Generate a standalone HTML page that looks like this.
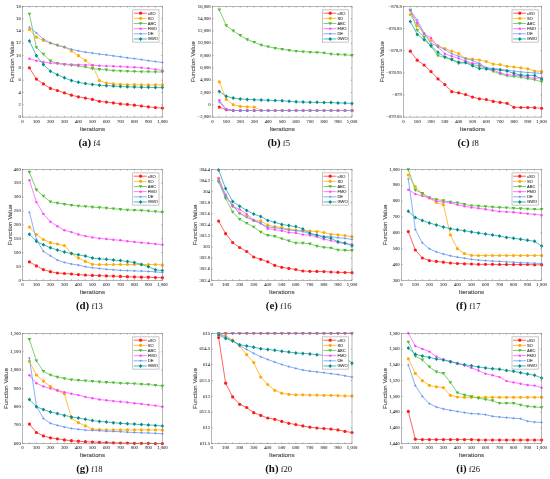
<!DOCTYPE html>
<html><head><meta charset="utf-8"><title>Convergence curves</title>
<style>
html,body{margin:0;padding:0;background:#fff;}
body{width:550px;height:479px;overflow:hidden;}
svg{display:block;will-change:transform;}
.tl text{font-family:"Liberation Serif",serif;font-size:4.7px;fill:#2a2a2a;stroke:#2a2a2a;stroke-width:0.05px;}
.al{font-family:"Liberation Sans",sans-serif;font-size:6.2px;fill:#505050;stroke:#505050;stroke-width:0.15px;}
.lg{font-family:"Liberation Sans",sans-serif;font-size:4.1px;fill:#3a3a3a;stroke:#3a3a3a;stroke-width:0.08px;}
.cap{font-family:"Liberation Serif",serif;font-size:10.9px;fill:#111;}
</style></head>
<body>
<svg width="550" height="479" viewBox="0 0 550 479">
<rect width="550" height="479" fill="#fff"/>
<polyline points="29.4,67.8 36.4,79.1 43.4,83.9 50.4,88.4 57.4,90.5 64.4,92.8 71.4,95.2 78.4,96.8 85.4,98.1 92.4,99.4 99.4,101.3 106.4,102.1 113.4,102.9 120.4,103.9 127.4,104.4 134.4,105.2 141.4,106 148.4,106.8 155.4,107.6 162.4,108.1" fill="none" stroke="#ff4848" stroke-width="0.85" stroke-linejoin="round"/>
<circle cx="29.4" cy="67.8" r="1.6" fill="#ff1a1a"/><circle cx="36.4" cy="79.1" r="1.6" fill="#ff1a1a"/><circle cx="43.4" cy="83.9" r="1.6" fill="#ff1a1a"/><circle cx="50.4" cy="88.4" r="1.6" fill="#ff1a1a"/><circle cx="57.4" cy="90.5" r="1.6" fill="#ff1a1a"/><circle cx="64.4" cy="92.8" r="1.6" fill="#ff1a1a"/><circle cx="71.4" cy="95.2" r="1.6" fill="#ff1a1a"/><circle cx="78.4" cy="96.8" r="1.6" fill="#ff1a1a"/><circle cx="85.4" cy="98.1" r="1.6" fill="#ff1a1a"/><circle cx="92.4" cy="99.4" r="1.6" fill="#ff1a1a"/><circle cx="99.4" cy="101.3" r="1.6" fill="#ff1a1a"/><circle cx="106.4" cy="102.1" r="1.6" fill="#ff1a1a"/><circle cx="113.4" cy="102.9" r="1.6" fill="#ff1a1a"/><circle cx="120.4" cy="103.9" r="1.6" fill="#ff1a1a"/><circle cx="127.4" cy="104.4" r="1.6" fill="#ff1a1a"/><circle cx="134.4" cy="105.2" r="1.6" fill="#ff1a1a"/><circle cx="141.4" cy="106" r="1.6" fill="#ff1a1a"/><circle cx="148.4" cy="106.8" r="1.6" fill="#ff1a1a"/><circle cx="155.4" cy="107.6" r="1.6" fill="#ff1a1a"/><circle cx="162.4" cy="108.1" r="1.6" fill="#ff1a1a"/>
<polyline points="29.4,29.6 36.4,37.2 43.4,40.4 50.4,43 57.4,44.9 64.4,47 71.4,50.9 78.4,55.7 85.4,60.4 92.4,65.4 99.4,80.5 106.4,83.1 113.4,83.9 120.4,84.4 127.4,84.7 134.4,84.7 141.4,84.9 148.4,84.9 155.4,84.9 162.4,84.9" fill="none" stroke="#ffb428" stroke-width="0.85" stroke-linejoin="round"/>
<circle cx="29.4" cy="29.6" r="1.6" fill="#ffaa00"/><circle cx="36.4" cy="37.2" r="1.6" fill="#ffaa00"/><circle cx="43.4" cy="40.4" r="1.6" fill="#ffaa00"/><circle cx="50.4" cy="43" r="1.6" fill="#ffaa00"/><circle cx="57.4" cy="44.9" r="1.6" fill="#ffaa00"/><circle cx="64.4" cy="47" r="1.6" fill="#ffaa00"/><circle cx="71.4" cy="50.9" r="1.6" fill="#ffaa00"/><circle cx="78.4" cy="55.7" r="1.6" fill="#ffaa00"/><circle cx="85.4" cy="60.4" r="1.6" fill="#ffaa00"/><circle cx="92.4" cy="65.4" r="1.6" fill="#ffaa00"/><circle cx="99.4" cy="80.5" r="1.6" fill="#ffaa00"/><circle cx="106.4" cy="83.1" r="1.6" fill="#ffaa00"/><circle cx="113.4" cy="83.9" r="1.6" fill="#ffaa00"/><circle cx="120.4" cy="84.4" r="1.6" fill="#ffaa00"/><circle cx="127.4" cy="84.7" r="1.6" fill="#ffaa00"/><circle cx="134.4" cy="84.7" r="1.6" fill="#ffaa00"/><circle cx="141.4" cy="84.9" r="1.6" fill="#ffaa00"/><circle cx="148.4" cy="84.9" r="1.6" fill="#ffaa00"/><circle cx="155.4" cy="84.9" r="1.6" fill="#ffaa00"/><circle cx="162.4" cy="84.9" r="1.6" fill="#ffaa00"/>
<polyline points="29.4,14 36.4,47.5 43.4,54.1 50.4,60.9 57.4,63.3 64.4,64.6 71.4,65.2 78.4,66 85.4,67 92.4,68.6 99.4,69.4 106.4,69.9 113.4,70.7 120.4,71 127.4,71.2 134.4,71.5 141.4,71.8 148.4,71.8 155.4,72 162.4,72" fill="none" stroke="#6cc85a" stroke-width="0.85" stroke-linejoin="round"/>
<path d="M27.5 12.7L31.3 12.7L29.4 15.8Z" fill="#4cbb2c"/><path d="M34.5 46.2L38.3 46.2L36.4 49.3Z" fill="#4cbb2c"/><path d="M41.5 52.8L45.3 52.8L43.4 55.9Z" fill="#4cbb2c"/><path d="M48.5 59.6L52.3 59.6L50.4 62.7Z" fill="#4cbb2c"/><path d="M55.5 62L59.3 62L57.4 65.1Z" fill="#4cbb2c"/><path d="M62.5 63.3L66.3 63.3L64.4 66.4Z" fill="#4cbb2c"/><path d="M69.5 63.9L73.3 63.9L71.4 67Z" fill="#4cbb2c"/><path d="M76.5 64.7L80.3 64.7L78.4 67.8Z" fill="#4cbb2c"/><path d="M83.5 65.7L87.3 65.7L85.4 68.8Z" fill="#4cbb2c"/><path d="M90.5 67.3L94.3 67.3L92.4 70.4Z" fill="#4cbb2c"/><path d="M97.5 68.1L101.3 68.1L99.4 71.2Z" fill="#4cbb2c"/><path d="M104.5 68.6L108.3 68.6L106.4 71.7Z" fill="#4cbb2c"/><path d="M111.5 69.4L115.3 69.4L113.4 72.5Z" fill="#4cbb2c"/><path d="M118.5 69.7L122.3 69.7L120.4 72.8Z" fill="#4cbb2c"/><path d="M125.5 69.9L129.3 69.9L127.4 73Z" fill="#4cbb2c"/><path d="M132.5 70.2L136.3 70.2L134.4 73.3Z" fill="#4cbb2c"/><path d="M139.5 70.5L143.3 70.5L141.4 73.6Z" fill="#4cbb2c"/><path d="M146.5 70.5L150.3 70.5L148.4 73.6Z" fill="#4cbb2c"/><path d="M153.5 70.7L157.3 70.7L155.4 73.8Z" fill="#4cbb2c"/><path d="M160.5 70.7L164.3 70.7L162.4 73.8Z" fill="#4cbb2c"/>
<polyline points="29.4,58.8 36.4,60.7 43.4,62 50.4,63.1 57.4,63.6 64.4,64.1 71.4,64.4 78.4,64.6 85.4,64.9 92.4,65.2 99.4,65.7 106.4,66 113.4,66.2 120.4,66.5 127.4,67 134.4,67.3 141.4,67.8 148.4,68.3 155.4,69.4 162.4,70.4" fill="none" stroke="#ff66ff" stroke-width="0.85" stroke-linejoin="round"/>
<circle cx="29.4" cy="58.8" r="1.2" fill="#ff44ff"/><circle cx="36.4" cy="60.7" r="1.2" fill="#ff44ff"/><circle cx="43.4" cy="62" r="1.2" fill="#ff44ff"/><circle cx="50.4" cy="63.1" r="1.2" fill="#ff44ff"/><circle cx="57.4" cy="63.6" r="1.2" fill="#ff44ff"/><circle cx="64.4" cy="64.1" r="1.2" fill="#ff44ff"/><circle cx="71.4" cy="64.4" r="1.2" fill="#ff44ff"/><circle cx="78.4" cy="64.6" r="1.2" fill="#ff44ff"/><circle cx="85.4" cy="64.9" r="1.2" fill="#ff44ff"/><circle cx="92.4" cy="65.2" r="1.2" fill="#ff44ff"/><circle cx="99.4" cy="65.7" r="1.2" fill="#ff44ff"/><circle cx="106.4" cy="66" r="1.2" fill="#ff44ff"/><circle cx="113.4" cy="66.2" r="1.2" fill="#ff44ff"/><circle cx="120.4" cy="66.5" r="1.2" fill="#ff44ff"/><circle cx="127.4" cy="67" r="1.2" fill="#ff44ff"/><circle cx="134.4" cy="67.3" r="1.2" fill="#ff44ff"/><circle cx="141.4" cy="67.8" r="1.2" fill="#ff44ff"/><circle cx="148.4" cy="68.3" r="1.2" fill="#ff44ff"/><circle cx="155.4" cy="69.4" r="1.2" fill="#ff44ff"/><circle cx="162.4" cy="70.4" r="1.2" fill="#ff44ff"/>
<polyline points="29.4,27.2 36.4,33 43.4,39.1 50.4,43 57.4,45.4 64.4,47.2 71.4,49.3 78.4,50.9 85.4,52.2 92.4,53 99.4,54.1 106.4,54.9 113.4,55.9 120.4,56.7 127.4,57.8 134.4,58.6 141.4,59.6 148.4,60.7 155.4,61.5 162.4,62.5" fill="none" stroke="#74a0f2" stroke-width="0.85" stroke-linejoin="round"/>
<path d="M28.2 27.2H30.6M29.4 26V28.4" stroke="#5a8ef0" stroke-width="0.7" fill="none"/><path d="M35.2 33H37.6M36.4 31.8V34.2" stroke="#5a8ef0" stroke-width="0.7" fill="none"/><path d="M42.2 39.1H44.6M43.4 37.9V40.3" stroke="#5a8ef0" stroke-width="0.7" fill="none"/><path d="M49.2 43H51.6M50.4 41.8V44.2" stroke="#5a8ef0" stroke-width="0.7" fill="none"/><path d="M56.2 45.4H58.6M57.4 44.2V46.6" stroke="#5a8ef0" stroke-width="0.7" fill="none"/><path d="M63.2 47.2H65.6M64.4 46V48.4" stroke="#5a8ef0" stroke-width="0.7" fill="none"/><path d="M70.2 49.3H72.6M71.4 48.1V50.5" stroke="#5a8ef0" stroke-width="0.7" fill="none"/><path d="M77.2 50.9H79.6M78.4 49.7V52.1" stroke="#5a8ef0" stroke-width="0.7" fill="none"/><path d="M84.2 52.2H86.6M85.4 51V53.4" stroke="#5a8ef0" stroke-width="0.7" fill="none"/><path d="M91.2 53H93.6M92.4 51.8V54.2" stroke="#5a8ef0" stroke-width="0.7" fill="none"/><path d="M98.2 54.1H100.6M99.4 52.9V55.3" stroke="#5a8ef0" stroke-width="0.7" fill="none"/><path d="M105.2 54.9H107.6M106.4 53.7V56.1" stroke="#5a8ef0" stroke-width="0.7" fill="none"/><path d="M112.2 55.9H114.6M113.4 54.7V57.1" stroke="#5a8ef0" stroke-width="0.7" fill="none"/><path d="M119.2 56.7H121.6M120.4 55.5V57.9" stroke="#5a8ef0" stroke-width="0.7" fill="none"/><path d="M126.2 57.8H128.6M127.4 56.6V59" stroke="#5a8ef0" stroke-width="0.7" fill="none"/><path d="M133.2 58.6H135.6M134.4 57.4V59.8" stroke="#5a8ef0" stroke-width="0.7" fill="none"/><path d="M140.2 59.6H142.6M141.4 58.4V60.8" stroke="#5a8ef0" stroke-width="0.7" fill="none"/><path d="M147.2 60.7H149.6M148.4 59.5V61.9" stroke="#5a8ef0" stroke-width="0.7" fill="none"/><path d="M154.2 61.5H156.6M155.4 60.3V62.7" stroke="#5a8ef0" stroke-width="0.7" fill="none"/><path d="M161.2 62.5H163.6M162.4 61.3V63.7" stroke="#5a8ef0" stroke-width="0.7" fill="none"/>
<polyline points="29.4,40.9 36.4,55.7 43.4,64.6 50.4,71.2 57.4,74.7 64.4,77.8 71.4,80.5 78.4,82.3 85.4,83.6 92.4,84.4 99.4,85.2 106.4,85.7 113.4,86 120.4,86.5 127.4,86.8 134.4,87 141.4,87.3 148.4,87.3 155.4,87.6 162.4,87.6" fill="none" stroke="#33adb0" stroke-width="0.85" stroke-linejoin="round"/>
<path d="M29.4 38.9L31.1 40.9L29.4 42.9L27.7 40.9Z" fill="#008c8c"/><path d="M36.4 53.7L38.1 55.7L36.4 57.7L34.7 55.7Z" fill="#008c8c"/><path d="M43.4 62.6L45.1 64.6L43.4 66.6L41.7 64.6Z" fill="#008c8c"/><path d="M50.4 69.2L52.1 71.2L50.4 73.2L48.7 71.2Z" fill="#008c8c"/><path d="M57.4 72.7L59.1 74.7L57.4 76.7L55.7 74.7Z" fill="#008c8c"/><path d="M64.4 75.8L66.1 77.8L64.4 79.8L62.7 77.8Z" fill="#008c8c"/><path d="M71.4 78.5L73.1 80.5L71.4 82.5L69.7 80.5Z" fill="#008c8c"/><path d="M78.4 80.3L80.1 82.3L78.4 84.3L76.7 82.3Z" fill="#008c8c"/><path d="M85.4 81.6L87.1 83.6L85.4 85.6L83.7 83.6Z" fill="#008c8c"/><path d="M92.4 82.4L94.1 84.4L92.4 86.4L90.7 84.4Z" fill="#008c8c"/><path d="M99.4 83.2L101.1 85.2L99.4 87.2L97.7 85.2Z" fill="#008c8c"/><path d="M106.4 83.7L108.1 85.7L106.4 87.7L104.7 85.7Z" fill="#008c8c"/><path d="M113.4 84L115.1 86L113.4 88L111.7 86Z" fill="#008c8c"/><path d="M120.4 84.5L122.1 86.5L120.4 88.5L118.7 86.5Z" fill="#008c8c"/><path d="M127.4 84.8L129.1 86.8L127.4 88.8L125.7 86.8Z" fill="#008c8c"/><path d="M134.4 85L136.1 87L134.4 89L132.7 87Z" fill="#008c8c"/><path d="M141.4 85.3L143.1 87.3L141.4 89.3L139.7 87.3Z" fill="#008c8c"/><path d="M148.4 85.3L150.1 87.3L148.4 89.3L146.7 87.3Z" fill="#008c8c"/><path d="M155.4 85.6L157.1 87.6L155.4 89.6L153.7 87.6Z" fill="#008c8c"/><path d="M162.4 85.6L164.1 87.6L162.4 89.6L160.7 87.6Z" fill="#008c8c"/>
<rect x="22.4" y="6.4" width="140" height="110.7" fill="none" stroke="#7a7a7a" stroke-width="0.55"/>
<path d="M22.4 117.1V115.8M22.4 6.4V7.7M29.4 117.1V115.8M29.4 6.4V7.7M36.4 117.1V115.8M36.4 6.4V7.7M43.4 117.1V115.8M43.4 6.4V7.7M50.4 117.1V115.8M50.4 6.4V7.7M57.4 117.1V115.8M57.4 6.4V7.7M64.4 117.1V115.8M64.4 6.4V7.7M71.4 117.1V115.8M71.4 6.4V7.7M78.4 117.1V115.8M78.4 6.4V7.7M85.4 117.1V115.8M85.4 6.4V7.7M92.4 117.1V115.8M92.4 6.4V7.7M99.4 117.1V115.8M99.4 6.4V7.7M106.4 117.1V115.8M106.4 6.4V7.7M113.4 117.1V115.8M113.4 6.4V7.7M120.4 117.1V115.8M120.4 6.4V7.7M127.4 117.1V115.8M127.4 6.4V7.7M134.4 117.1V115.8M134.4 6.4V7.7M141.4 117.1V115.8M141.4 6.4V7.7M148.4 117.1V115.8M148.4 6.4V7.7M155.4 117.1V115.8M155.4 6.4V7.7M162.4 117.1V115.8M162.4 6.4V7.7M22.4 117.1H23.7M162.4 117.1H161.1M22.4 104.8H23.7M162.4 104.8H161.1M22.4 92.5H23.7M162.4 92.5H161.1M22.4 80.2H23.7M162.4 80.2H161.1M22.4 67.9H23.7M162.4 67.9H161.1M22.4 55.6H23.7M162.4 55.6H161.1M22.4 43.3H23.7M162.4 43.3H161.1M22.4 31H23.7M162.4 31H161.1M22.4 18.7H23.7M162.4 18.7H161.1M22.4 6.4H23.7M162.4 6.4H161.1" stroke="#7a7a7a" stroke-width="0.55" fill="none"/>
<g class="tl"><text x="20.8" y="118.25" text-anchor="end">0</text><text x="20.8" y="105.95" text-anchor="end">2</text><text x="20.8" y="93.65" text-anchor="end">4</text><text x="20.8" y="81.35" text-anchor="end">6</text><text x="20.8" y="69.05" text-anchor="end">8</text><text x="20.8" y="56.75" text-anchor="end">10</text><text x="20.8" y="44.45" text-anchor="end">12</text><text x="20.8" y="32.15" text-anchor="end">14</text><text x="20.8" y="19.85" text-anchor="end">16</text><text x="20.8" y="7.55" text-anchor="end">18</text><text x="22.4" y="122.5" text-anchor="middle">0</text><text x="36.4" y="122.5" text-anchor="middle">100</text><text x="50.4" y="122.5" text-anchor="middle">200</text><text x="64.4" y="122.5" text-anchor="middle">300</text><text x="78.4" y="122.5" text-anchor="middle">400</text><text x="92.4" y="122.5" text-anchor="middle">500</text><text x="106.4" y="122.5" text-anchor="middle">600</text><text x="120.4" y="122.5" text-anchor="middle">700</text><text x="134.4" y="122.5" text-anchor="middle">800</text><text x="148.4" y="122.5" text-anchor="middle">900</text><text x="162.4" y="122.5" text-anchor="middle">1,000</text></g>
<text class="al" x="92.4" y="130.7" text-anchor="middle">Iterations</text>
<text class="al" text-anchor="middle" transform="translate(14.15 61.75) rotate(-90)">Function Value</text>
<rect x="132.8" y="9.9" width="26.2" height="32.2" fill="#fff" stroke="#8c8c8c" stroke-width="0.5"/><path d="M133.8 13.2H146.8" stroke="#ff4848" stroke-width="0.85"/><circle cx="140.6" cy="13.2" r="1.6" fill="#ff1a1a"/><text class="lg" x="147.8" y="14.65">cSO</text><path d="M133.8 18.35H146.8" stroke="#ffb428" stroke-width="0.85"/><circle cx="140.6" cy="18.35" r="1.6" fill="#ffaa00"/><text class="lg" x="147.8" y="19.8">SO</text><path d="M133.8 23.5H146.8" stroke="#6cc85a" stroke-width="0.85"/><path d="M138.7 22.2L142.5 22.2L140.6 25.3Z" fill="#4cbb2c"/><text class="lg" x="147.8" y="24.95">ABC</text><path d="M133.8 28.65H146.8" stroke="#ff66ff" stroke-width="0.85"/><circle cx="140.6" cy="28.65" r="1.2" fill="#ff44ff"/><text class="lg" x="147.8" y="30.1">FMO</text><path d="M133.8 33.8H146.8" stroke="#74a0f2" stroke-width="0.85"/><path d="M139.4 33.8H141.8M140.6 32.6V35" stroke="#5a8ef0" stroke-width="0.7" fill="none"/><text class="lg" x="147.8" y="35.25">DE</text><path d="M133.8 38.95H146.8" stroke="#33adb0" stroke-width="0.85"/><path d="M140.6 36.95L142.3 38.95L140.6 40.95L138.9 38.95Z" fill="#008c8c"/><text class="lg" x="147.8" y="40.4">GWO</text>
<text class="cap" text-anchor="middle" x="89.4" y="145.5"><tspan font-weight="bold">(a)</tspan><tspan style="font-size:8.6px"> f4</tspan></text>
<polyline points="219.29,107.1 226.27,109.7 233.25,110.5 240.24,110.5 247.23,110.5 254.21,110.5 261.19,110.5 268.18,110.5 275.17,110.5 282.15,110.5 289.13,110.5 296.12,110.5 303.11,110.5 310.09,110.5 317.07,110.5 324.06,110.5 331.05,110.5 338.03,110.5 345.01,110.5 352,110.5" fill="none" stroke="#ff4848" stroke-width="0.85" stroke-linejoin="round"/>
<circle cx="219.29" cy="107.1" r="1.6" fill="#ff1a1a"/><circle cx="226.27" cy="109.7" r="1.6" fill="#ff1a1a"/><circle cx="233.25" cy="110.5" r="1.6" fill="#ff1a1a"/><circle cx="240.24" cy="110.5" r="1.6" fill="#ff1a1a"/><circle cx="247.23" cy="110.5" r="1.6" fill="#ff1a1a"/><circle cx="254.21" cy="110.5" r="1.6" fill="#ff1a1a"/><circle cx="261.19" cy="110.5" r="1.6" fill="#ff1a1a"/><circle cx="268.18" cy="110.5" r="1.6" fill="#ff1a1a"/><circle cx="275.17" cy="110.5" r="1.6" fill="#ff1a1a"/><circle cx="282.15" cy="110.5" r="1.6" fill="#ff1a1a"/><circle cx="289.13" cy="110.5" r="1.6" fill="#ff1a1a"/><circle cx="296.12" cy="110.5" r="1.6" fill="#ff1a1a"/><circle cx="303.11" cy="110.5" r="1.6" fill="#ff1a1a"/><circle cx="310.09" cy="110.5" r="1.6" fill="#ff1a1a"/><circle cx="317.07" cy="110.5" r="1.6" fill="#ff1a1a"/><circle cx="324.06" cy="110.5" r="1.6" fill="#ff1a1a"/><circle cx="331.05" cy="110.5" r="1.6" fill="#ff1a1a"/><circle cx="338.03" cy="110.5" r="1.6" fill="#ff1a1a"/><circle cx="345.01" cy="110.5" r="1.6" fill="#ff1a1a"/><circle cx="352" cy="110.5" r="1.6" fill="#ff1a1a"/>
<polyline points="219.29,81.8 226.27,99.4 233.25,104.7 240.24,106.3 247.23,106.8 254.21,107.1 261.19,110.5 268.18,110.5 275.17,110.5 282.15,110.5 289.13,110.5 296.12,110.5 303.11,110.5 310.09,110.5 317.07,110.5 324.06,110.5 331.05,110.5 338.03,110.5 345.01,110.5 352,110.5" fill="none" stroke="#ffb428" stroke-width="0.85" stroke-linejoin="round"/>
<circle cx="219.29" cy="81.8" r="1.6" fill="#ffaa00"/><circle cx="226.27" cy="99.4" r="1.6" fill="#ffaa00"/><circle cx="233.25" cy="104.7" r="1.6" fill="#ffaa00"/><circle cx="240.24" cy="106.3" r="1.6" fill="#ffaa00"/><circle cx="247.23" cy="106.8" r="1.6" fill="#ffaa00"/><circle cx="254.21" cy="107.1" r="1.6" fill="#ffaa00"/><circle cx="261.19" cy="110.5" r="1.6" fill="#ffaa00"/><circle cx="268.18" cy="110.5" r="1.6" fill="#ffaa00"/><circle cx="275.17" cy="110.5" r="1.6" fill="#ffaa00"/><circle cx="282.15" cy="110.5" r="1.6" fill="#ffaa00"/><circle cx="289.13" cy="110.5" r="1.6" fill="#ffaa00"/><circle cx="296.12" cy="110.5" r="1.6" fill="#ffaa00"/><circle cx="303.11" cy="110.5" r="1.6" fill="#ffaa00"/><circle cx="310.09" cy="110.5" r="1.6" fill="#ffaa00"/><circle cx="317.07" cy="110.5" r="1.6" fill="#ffaa00"/><circle cx="324.06" cy="110.5" r="1.6" fill="#ffaa00"/><circle cx="331.05" cy="110.5" r="1.6" fill="#ffaa00"/><circle cx="338.03" cy="110.5" r="1.6" fill="#ffaa00"/><circle cx="345.01" cy="110.5" r="1.6" fill="#ffaa00"/><circle cx="352" cy="110.5" r="1.6" fill="#ffaa00"/>
<polyline points="219.29,9.8 226.27,25.6 233.25,30.9 240.24,35.4 247.23,39.6 254.21,42.2 261.19,45.1 268.18,46.7 275.17,48.3 282.15,49.3 289.13,50.4 296.12,51.2 303.11,51.7 310.09,52.2 317.07,52.5 324.06,53 331.05,54.1 338.03,54.6 345.01,54.9 352,55.4" fill="none" stroke="#6cc85a" stroke-width="0.85" stroke-linejoin="round"/>
<path d="M217.39 8.5L221.19 8.5L219.29 11.6Z" fill="#4cbb2c"/><path d="M224.37 24.3L228.17 24.3L226.27 27.4Z" fill="#4cbb2c"/><path d="M231.35 29.6L235.16 29.6L233.25 32.7Z" fill="#4cbb2c"/><path d="M238.34 34.1L242.14 34.1L240.24 37.2Z" fill="#4cbb2c"/><path d="M245.33 38.3L249.13 38.3L247.23 41.4Z" fill="#4cbb2c"/><path d="M252.31 40.9L256.11 40.9L254.21 44Z" fill="#4cbb2c"/><path d="M259.3 43.8L263.09 43.8L261.19 46.9Z" fill="#4cbb2c"/><path d="M266.28 45.4L270.08 45.4L268.18 48.5Z" fill="#4cbb2c"/><path d="M273.27 47L277.06 47L275.17 50.1Z" fill="#4cbb2c"/><path d="M280.25 48L284.05 48L282.15 51.1Z" fill="#4cbb2c"/><path d="M287.24 49.1L291.03 49.1L289.13 52.2Z" fill="#4cbb2c"/><path d="M294.22 49.9L298.02 49.9L296.12 53Z" fill="#4cbb2c"/><path d="M301.21 50.4L305 50.4L303.11 53.5Z" fill="#4cbb2c"/><path d="M308.19 50.9L311.99 50.9L310.09 54Z" fill="#4cbb2c"/><path d="M315.18 51.2L318.97 51.2L317.07 54.3Z" fill="#4cbb2c"/><path d="M322.16 51.7L325.96 51.7L324.06 54.8Z" fill="#4cbb2c"/><path d="M329.15 52.8L332.94 52.8L331.05 55.9Z" fill="#4cbb2c"/><path d="M336.13 53.3L339.93 53.3L338.03 56.4Z" fill="#4cbb2c"/><path d="M343.12 53.6L346.91 53.6L345.01 56.7Z" fill="#4cbb2c"/><path d="M350.1 54.1L353.9 54.1L352 57.2Z" fill="#4cbb2c"/>
<polyline points="219.29,100.2 226.27,109.5 233.25,110.5 240.24,110.5 247.23,110.5 254.21,110.5 261.19,110.5 268.18,110.5 275.17,110.5 282.15,110.5 289.13,110.5 296.12,110.5 303.11,110.5 310.09,110.5 317.07,110.5 324.06,110.5 331.05,110.5 338.03,110.5 345.01,110.5 352,110.5" fill="none" stroke="#ff66ff" stroke-width="0.85" stroke-linejoin="round"/>
<circle cx="219.29" cy="100.2" r="1.2" fill="#ff44ff"/><circle cx="226.27" cy="109.5" r="1.2" fill="#ff44ff"/><circle cx="233.25" cy="110.5" r="1.2" fill="#ff44ff"/><circle cx="240.24" cy="110.5" r="1.2" fill="#ff44ff"/><circle cx="247.23" cy="110.5" r="1.2" fill="#ff44ff"/><circle cx="254.21" cy="110.5" r="1.2" fill="#ff44ff"/><circle cx="261.19" cy="110.5" r="1.2" fill="#ff44ff"/><circle cx="268.18" cy="110.5" r="1.2" fill="#ff44ff"/><circle cx="275.17" cy="110.5" r="1.2" fill="#ff44ff"/><circle cx="282.15" cy="110.5" r="1.2" fill="#ff44ff"/><circle cx="289.13" cy="110.5" r="1.2" fill="#ff44ff"/><circle cx="296.12" cy="110.5" r="1.2" fill="#ff44ff"/><circle cx="303.11" cy="110.5" r="1.2" fill="#ff44ff"/><circle cx="310.09" cy="110.5" r="1.2" fill="#ff44ff"/><circle cx="317.07" cy="110.5" r="1.2" fill="#ff44ff"/><circle cx="324.06" cy="110.5" r="1.2" fill="#ff44ff"/><circle cx="331.05" cy="110.5" r="1.2" fill="#ff44ff"/><circle cx="338.03" cy="110.5" r="1.2" fill="#ff44ff"/><circle cx="345.01" cy="110.5" r="1.2" fill="#ff44ff"/><circle cx="352" cy="110.5" r="1.2" fill="#ff44ff"/>
<polyline points="219.29,102.1 226.27,109.5 233.25,110.5 240.24,110.5 247.23,110.5 254.21,110.5 261.19,110.5 268.18,110.5 275.17,110.5 282.15,110.5 289.13,110.5 296.12,110.5 303.11,110.5 310.09,110.5 317.07,110.5 324.06,110.5 331.05,110.5 338.03,110.5 345.01,110.5 352,110.5" fill="none" stroke="#74a0f2" stroke-width="0.85" stroke-linejoin="round"/>
<path d="M218.09 102.1H220.49M219.29 100.9V103.3" stroke="#5a8ef0" stroke-width="0.7" fill="none"/><path d="M225.07 109.5H227.47M226.27 108.3V110.7" stroke="#5a8ef0" stroke-width="0.7" fill="none"/><path d="M232.06 110.5H234.45M233.25 109.3V111.7" stroke="#5a8ef0" stroke-width="0.7" fill="none"/><path d="M239.04 110.5H241.44M240.24 109.3V111.7" stroke="#5a8ef0" stroke-width="0.7" fill="none"/><path d="M246.03 110.5H248.43M247.23 109.3V111.7" stroke="#5a8ef0" stroke-width="0.7" fill="none"/><path d="M253.01 110.5H255.41M254.21 109.3V111.7" stroke="#5a8ef0" stroke-width="0.7" fill="none"/><path d="M260 110.5H262.39M261.19 109.3V111.7" stroke="#5a8ef0" stroke-width="0.7" fill="none"/><path d="M266.98 110.5H269.38M268.18 109.3V111.7" stroke="#5a8ef0" stroke-width="0.7" fill="none"/><path d="M273.97 110.5H276.37M275.17 109.3V111.7" stroke="#5a8ef0" stroke-width="0.7" fill="none"/><path d="M280.95 110.5H283.35M282.15 109.3V111.7" stroke="#5a8ef0" stroke-width="0.7" fill="none"/><path d="M287.94 110.5H290.33M289.13 109.3V111.7" stroke="#5a8ef0" stroke-width="0.7" fill="none"/><path d="M294.92 110.5H297.32M296.12 109.3V111.7" stroke="#5a8ef0" stroke-width="0.7" fill="none"/><path d="M301.91 110.5H304.31M303.11 109.3V111.7" stroke="#5a8ef0" stroke-width="0.7" fill="none"/><path d="M308.89 110.5H311.29M310.09 109.3V111.7" stroke="#5a8ef0" stroke-width="0.7" fill="none"/><path d="M315.88 110.5H318.27M317.07 109.3V111.7" stroke="#5a8ef0" stroke-width="0.7" fill="none"/><path d="M322.86 110.5H325.26M324.06 109.3V111.7" stroke="#5a8ef0" stroke-width="0.7" fill="none"/><path d="M329.85 110.5H332.25M331.05 109.3V111.7" stroke="#5a8ef0" stroke-width="0.7" fill="none"/><path d="M336.83 110.5H339.23M338.03 109.3V111.7" stroke="#5a8ef0" stroke-width="0.7" fill="none"/><path d="M343.81 110.5H346.21M345.01 109.3V111.7" stroke="#5a8ef0" stroke-width="0.7" fill="none"/><path d="M350.8 110.5H353.2M352 109.3V111.7" stroke="#5a8ef0" stroke-width="0.7" fill="none"/>
<polyline points="219.29,91.5 226.27,96.3 233.25,98.1 240.24,98.9 247.23,99.4 254.21,99.7 261.19,100 268.18,100.2 275.17,100.5 282.15,100.8 289.13,101.3 296.12,101.8 303.11,102.1 310.09,102.3 317.07,102.3 324.06,102.6 331.05,102.6 338.03,102.9 345.01,103.1 352,103.4" fill="none" stroke="#33adb0" stroke-width="0.85" stroke-linejoin="round"/>
<path d="M219.29 89.5L220.99 91.5L219.29 93.5L217.59 91.5Z" fill="#008c8c"/><path d="M226.27 94.3L227.97 96.3L226.27 98.3L224.57 96.3Z" fill="#008c8c"/><path d="M233.25 96.1L234.95 98.1L233.25 100.1L231.56 98.1Z" fill="#008c8c"/><path d="M240.24 96.9L241.94 98.9L240.24 100.9L238.54 98.9Z" fill="#008c8c"/><path d="M247.23 97.4L248.93 99.4L247.23 101.4L245.53 99.4Z" fill="#008c8c"/><path d="M254.21 97.7L255.91 99.7L254.21 101.7L252.51 99.7Z" fill="#008c8c"/><path d="M261.19 98L262.89 100L261.19 102L259.5 100Z" fill="#008c8c"/><path d="M268.18 98.2L269.88 100.2L268.18 102.2L266.48 100.2Z" fill="#008c8c"/><path d="M275.17 98.5L276.87 100.5L275.17 102.5L273.47 100.5Z" fill="#008c8c"/><path d="M282.15 98.8L283.85 100.8L282.15 102.8L280.45 100.8Z" fill="#008c8c"/><path d="M289.13 99.3L290.83 101.3L289.13 103.3L287.44 101.3Z" fill="#008c8c"/><path d="M296.12 99.8L297.82 101.8L296.12 103.8L294.42 101.8Z" fill="#008c8c"/><path d="M303.11 100.1L304.81 102.1L303.11 104.1L301.41 102.1Z" fill="#008c8c"/><path d="M310.09 100.3L311.79 102.3L310.09 104.3L308.39 102.3Z" fill="#008c8c"/><path d="M317.07 100.3L318.77 102.3L317.07 104.3L315.38 102.3Z" fill="#008c8c"/><path d="M324.06 100.6L325.76 102.6L324.06 104.6L322.36 102.6Z" fill="#008c8c"/><path d="M331.05 100.6L332.75 102.6L331.05 104.6L329.35 102.6Z" fill="#008c8c"/><path d="M338.03 100.9L339.73 102.9L338.03 104.9L336.33 102.9Z" fill="#008c8c"/><path d="M345.01 101.1L346.71 103.1L345.01 105.1L343.31 103.1Z" fill="#008c8c"/><path d="M352 101.4L353.7 103.4L352 105.4L350.3 103.4Z" fill="#008c8c"/>
<rect x="212.3" y="6.4" width="139.7" height="110.7" fill="none" stroke="#7a7a7a" stroke-width="0.55"/>
<path d="M212.3 117.1V115.8M212.3 6.4V7.7M219.29 117.1V115.8M219.29 6.4V7.7M226.27 117.1V115.8M226.27 6.4V7.7M233.25 117.1V115.8M233.25 6.4V7.7M240.24 117.1V115.8M240.24 6.4V7.7M247.23 117.1V115.8M247.23 6.4V7.7M254.21 117.1V115.8M254.21 6.4V7.7M261.19 117.1V115.8M261.19 6.4V7.7M268.18 117.1V115.8M268.18 6.4V7.7M275.17 117.1V115.8M275.17 6.4V7.7M282.15 117.1V115.8M282.15 6.4V7.7M289.13 117.1V115.8M289.13 6.4V7.7M296.12 117.1V115.8M296.12 6.4V7.7M303.11 117.1V115.8M303.11 6.4V7.7M310.09 117.1V115.8M310.09 6.4V7.7M317.07 117.1V115.8M317.07 6.4V7.7M324.06 117.1V115.8M324.06 6.4V7.7M331.05 117.1V115.8M331.05 6.4V7.7M338.03 117.1V115.8M338.03 6.4V7.7M345.01 117.1V115.8M345.01 6.4V7.7M352 117.1V115.8M352 6.4V7.7M212.3 117.1H213.6M352 117.1H350.7M212.3 104.8H213.6M352 104.8H350.7M212.3 92.5H213.6M352 92.5H350.7M212.3 80.2H213.6M352 80.2H350.7M212.3 67.9H213.6M352 67.9H350.7M212.3 55.6H213.6M352 55.6H350.7M212.3 43.3H213.6M352 43.3H350.7M212.3 31H213.6M352 31H350.7M212.3 18.7H213.6M352 18.7H350.7M212.3 6.4H213.6M352 6.4H350.7" stroke="#7a7a7a" stroke-width="0.55" fill="none"/>
<g class="tl"><text x="210.7" y="118.25" text-anchor="end">−2,000</text><text x="210.7" y="105.95" text-anchor="end">0</text><text x="210.7" y="93.65" text-anchor="end">2,000</text><text x="210.7" y="81.35" text-anchor="end">4,000</text><text x="210.7" y="69.05" text-anchor="end">6,000</text><text x="210.7" y="56.75" text-anchor="end">8,000</text><text x="210.7" y="44.45" text-anchor="end">10,000</text><text x="210.7" y="32.15" text-anchor="end">12,000</text><text x="210.7" y="19.85" text-anchor="end">14,000</text><text x="210.7" y="7.55" text-anchor="end">16,000</text><text x="212.3" y="122.5" text-anchor="middle">0</text><text x="226.27" y="122.5" text-anchor="middle">100</text><text x="240.24" y="122.5" text-anchor="middle">200</text><text x="254.21" y="122.5" text-anchor="middle">300</text><text x="268.18" y="122.5" text-anchor="middle">400</text><text x="282.15" y="122.5" text-anchor="middle">500</text><text x="296.12" y="122.5" text-anchor="middle">600</text><text x="310.09" y="122.5" text-anchor="middle">700</text><text x="324.06" y="122.5" text-anchor="middle">800</text><text x="338.03" y="122.5" text-anchor="middle">900</text><text x="352" y="122.5" text-anchor="middle">1,000</text></g>
<text class="al" x="282.15" y="130.7" text-anchor="middle">Iterations</text>
<text class="al" text-anchor="middle" transform="translate(195.05 61.75) rotate(-90)">Function Value</text>
<rect x="322.4" y="9.9" width="26.2" height="32.2" fill="#fff" stroke="#8c8c8c" stroke-width="0.5"/><path d="M323.4 13.2H336.4" stroke="#ff4848" stroke-width="0.85"/><circle cx="330.2" cy="13.2" r="1.6" fill="#ff1a1a"/><text class="lg" x="337.4" y="14.65">cSO</text><path d="M323.4 18.35H336.4" stroke="#ffb428" stroke-width="0.85"/><circle cx="330.2" cy="18.35" r="1.6" fill="#ffaa00"/><text class="lg" x="337.4" y="19.8">SO</text><path d="M323.4 23.5H336.4" stroke="#6cc85a" stroke-width="0.85"/><path d="M328.3 22.2L332.1 22.2L330.2 25.3Z" fill="#4cbb2c"/><text class="lg" x="337.4" y="24.95">ABC</text><path d="M323.4 28.65H336.4" stroke="#ff66ff" stroke-width="0.85"/><circle cx="330.2" cy="28.65" r="1.2" fill="#ff44ff"/><text class="lg" x="337.4" y="30.1">FMO</text><path d="M323.4 33.8H336.4" stroke="#74a0f2" stroke-width="0.85"/><path d="M329 33.8H331.4M330.2 32.6V35" stroke="#5a8ef0" stroke-width="0.7" fill="none"/><text class="lg" x="337.4" y="35.25">DE</text><path d="M323.4 38.95H336.4" stroke="#33adb0" stroke-width="0.85"/><path d="M330.2 36.95L331.9 38.95L330.2 40.95L328.5 38.95Z" fill="#008c8c"/><text class="lg" x="337.4" y="40.4">GWO</text>
<text class="cap" text-anchor="middle" x="278.7" y="145.5"><tspan font-weight="bold">(b)</tspan><tspan style="font-size:8.6px"> f5</tspan></text>
<polyline points="410.31,51.2 417.22,60.2 424.13,65.1 431.04,71.6 437.95,78.9 444.86,84.6 451.77,91.7 458.68,92.8 465.59,94.6 472.5,97.1 479.41,98.8 486.32,99.5 493.23,101.4 500.14,102.4 507.05,103.3 513.96,107.3 520.87,107.5 527.78,107.5 534.69,107.7 541.6,108.3" fill="none" stroke="#ff4848" stroke-width="0.85" stroke-linejoin="round"/>
<circle cx="410.31" cy="51.2" r="1.6" fill="#ff1a1a"/><circle cx="417.22" cy="60.2" r="1.6" fill="#ff1a1a"/><circle cx="424.13" cy="65.1" r="1.6" fill="#ff1a1a"/><circle cx="431.04" cy="71.6" r="1.6" fill="#ff1a1a"/><circle cx="437.95" cy="78.9" r="1.6" fill="#ff1a1a"/><circle cx="444.86" cy="84.6" r="1.6" fill="#ff1a1a"/><circle cx="451.77" cy="91.7" r="1.6" fill="#ff1a1a"/><circle cx="458.68" cy="92.8" r="1.6" fill="#ff1a1a"/><circle cx="465.59" cy="94.6" r="1.6" fill="#ff1a1a"/><circle cx="472.5" cy="97.1" r="1.6" fill="#ff1a1a"/><circle cx="479.41" cy="98.8" r="1.6" fill="#ff1a1a"/><circle cx="486.32" cy="99.5" r="1.6" fill="#ff1a1a"/><circle cx="493.23" cy="101.4" r="1.6" fill="#ff1a1a"/><circle cx="500.14" cy="102.4" r="1.6" fill="#ff1a1a"/><circle cx="507.05" cy="103.3" r="1.6" fill="#ff1a1a"/><circle cx="513.96" cy="107.3" r="1.6" fill="#ff1a1a"/><circle cx="520.87" cy="107.5" r="1.6" fill="#ff1a1a"/><circle cx="527.78" cy="107.5" r="1.6" fill="#ff1a1a"/><circle cx="534.69" cy="107.7" r="1.6" fill="#ff1a1a"/><circle cx="541.6" cy="108.3" r="1.6" fill="#ff1a1a"/>
<polyline points="410.31,14.5 417.22,25.6 424.13,34 431.04,40.5 437.95,45.7 444.86,48.6 451.77,51.1 458.68,53.5 465.59,58.5 472.5,59.2 479.41,60 486.32,61.5 493.23,64.1 500.14,64.6 507.05,66.3 513.96,67 520.87,67.8 527.78,68.8 534.69,71 541.6,71.4" fill="none" stroke="#ffb428" stroke-width="0.85" stroke-linejoin="round"/>
<circle cx="410.31" cy="14.5" r="1.6" fill="#ffaa00"/><circle cx="417.22" cy="25.6" r="1.6" fill="#ffaa00"/><circle cx="424.13" cy="34" r="1.6" fill="#ffaa00"/><circle cx="431.04" cy="40.5" r="1.6" fill="#ffaa00"/><circle cx="437.95" cy="45.7" r="1.6" fill="#ffaa00"/><circle cx="444.86" cy="48.6" r="1.6" fill="#ffaa00"/><circle cx="451.77" cy="51.1" r="1.6" fill="#ffaa00"/><circle cx="458.68" cy="53.5" r="1.6" fill="#ffaa00"/><circle cx="465.59" cy="58.5" r="1.6" fill="#ffaa00"/><circle cx="472.5" cy="59.2" r="1.6" fill="#ffaa00"/><circle cx="479.41" cy="60" r="1.6" fill="#ffaa00"/><circle cx="486.32" cy="61.5" r="1.6" fill="#ffaa00"/><circle cx="493.23" cy="64.1" r="1.6" fill="#ffaa00"/><circle cx="500.14" cy="64.6" r="1.6" fill="#ffaa00"/><circle cx="507.05" cy="66.3" r="1.6" fill="#ffaa00"/><circle cx="513.96" cy="67" r="1.6" fill="#ffaa00"/><circle cx="520.87" cy="67.8" r="1.6" fill="#ffaa00"/><circle cx="527.78" cy="68.8" r="1.6" fill="#ffaa00"/><circle cx="534.69" cy="71" r="1.6" fill="#ffaa00"/><circle cx="541.6" cy="71.4" r="1.6" fill="#ffaa00"/>
<polyline points="410.31,10.1 417.22,30.3 424.13,37.3 431.04,46.4 437.95,55.6 444.86,57.4 451.77,59.6 458.68,63.4 465.59,62.8 472.5,64.5 479.41,66.3 486.32,68.5 493.23,71.4 500.14,73.9 507.05,75.8 513.96,76.5 520.87,77.3 527.78,78.7 534.69,79.8 541.6,81.7" fill="none" stroke="#6cc85a" stroke-width="0.85" stroke-linejoin="round"/>
<path d="M408.41 8.8L412.21 8.8L410.31 11.9Z" fill="#4cbb2c"/><path d="M415.32 29L419.12 29L417.22 32.1Z" fill="#4cbb2c"/><path d="M422.23 36L426.03 36L424.13 39.1Z" fill="#4cbb2c"/><path d="M429.14 45.1L432.94 45.1L431.04 48.2Z" fill="#4cbb2c"/><path d="M436.05 54.3L439.85 54.3L437.95 57.4Z" fill="#4cbb2c"/><path d="M442.96 56.1L446.76 56.1L444.86 59.2Z" fill="#4cbb2c"/><path d="M449.87 58.3L453.67 58.3L451.77 61.4Z" fill="#4cbb2c"/><path d="M456.78 62.1L460.58 62.1L458.68 65.2Z" fill="#4cbb2c"/><path d="M463.69 61.5L467.49 61.5L465.59 64.6Z" fill="#4cbb2c"/><path d="M470.6 63.2L474.4 63.2L472.5 66.3Z" fill="#4cbb2c"/><path d="M477.51 65L481.31 65L479.41 68.1Z" fill="#4cbb2c"/><path d="M484.42 67.2L488.22 67.2L486.32 70.3Z" fill="#4cbb2c"/><path d="M491.33 70.1L495.13 70.1L493.23 73.2Z" fill="#4cbb2c"/><path d="M498.24 72.6L502.04 72.6L500.14 75.7Z" fill="#4cbb2c"/><path d="M505.15 74.5L508.95 74.5L507.05 77.6Z" fill="#4cbb2c"/><path d="M512.06 75.2L515.86 75.2L513.96 78.3Z" fill="#4cbb2c"/><path d="M518.97 76L522.77 76L520.87 79.1Z" fill="#4cbb2c"/><path d="M525.88 77.4L529.68 77.4L527.78 80.5Z" fill="#4cbb2c"/><path d="M532.79 78.5L536.59 78.5L534.69 81.6Z" fill="#4cbb2c"/><path d="M539.7 80.4L543.5 80.4L541.6 83.5Z" fill="#4cbb2c"/>
<polyline points="410.31,10.6 417.22,23 424.13,34 431.04,37.9 437.95,47.1 444.86,53.7 451.77,56.3 458.68,58.4 465.59,61 472.5,63.2 479.41,64.1 486.32,68.5 493.23,70 500.14,72.9 507.05,74.8 513.96,75.1 520.87,75.8 527.78,77.3 534.69,78.3 541.6,77.7" fill="none" stroke="#ff66ff" stroke-width="0.85" stroke-linejoin="round"/>
<circle cx="410.31" cy="10.6" r="1.2" fill="#ff44ff"/><circle cx="417.22" cy="23" r="1.2" fill="#ff44ff"/><circle cx="424.13" cy="34" r="1.2" fill="#ff44ff"/><circle cx="431.04" cy="37.9" r="1.2" fill="#ff44ff"/><circle cx="437.95" cy="47.1" r="1.2" fill="#ff44ff"/><circle cx="444.86" cy="53.7" r="1.2" fill="#ff44ff"/><circle cx="451.77" cy="56.3" r="1.2" fill="#ff44ff"/><circle cx="458.68" cy="58.4" r="1.2" fill="#ff44ff"/><circle cx="465.59" cy="61" r="1.2" fill="#ff44ff"/><circle cx="472.5" cy="63.2" r="1.2" fill="#ff44ff"/><circle cx="479.41" cy="64.1" r="1.2" fill="#ff44ff"/><circle cx="486.32" cy="68.5" r="1.2" fill="#ff44ff"/><circle cx="493.23" cy="70" r="1.2" fill="#ff44ff"/><circle cx="500.14" cy="72.9" r="1.2" fill="#ff44ff"/><circle cx="507.05" cy="74.8" r="1.2" fill="#ff44ff"/><circle cx="513.96" cy="75.1" r="1.2" fill="#ff44ff"/><circle cx="520.87" cy="75.8" r="1.2" fill="#ff44ff"/><circle cx="527.78" cy="77.3" r="1.2" fill="#ff44ff"/><circle cx="534.69" cy="78.3" r="1.2" fill="#ff44ff"/><circle cx="541.6" cy="77.7" r="1.2" fill="#ff44ff"/>
<polyline points="410.31,10.1 417.22,20.1 424.13,33.2 431.04,43.5 437.95,46.4 444.86,49.6 451.77,53.7 458.68,56.3 465.59,58.4 472.5,60.4 479.41,63.4 486.32,67.8 493.23,68.5 500.14,69.2 507.05,70.3 513.96,71 520.87,71.9 527.78,72.5 534.69,72.9 541.6,73.3" fill="none" stroke="#74a0f2" stroke-width="0.85" stroke-linejoin="round"/>
<path d="M409.11 10.1H411.51M410.31 8.9V11.3" stroke="#5a8ef0" stroke-width="0.7" fill="none"/><path d="M416.02 20.1H418.42M417.22 18.9V21.3" stroke="#5a8ef0" stroke-width="0.7" fill="none"/><path d="M422.93 33.2H425.33M424.13 32V34.4" stroke="#5a8ef0" stroke-width="0.7" fill="none"/><path d="M429.84 43.5H432.24M431.04 42.3V44.7" stroke="#5a8ef0" stroke-width="0.7" fill="none"/><path d="M436.75 46.4H439.15M437.95 45.2V47.6" stroke="#5a8ef0" stroke-width="0.7" fill="none"/><path d="M443.66 49.6H446.06M444.86 48.4V50.8" stroke="#5a8ef0" stroke-width="0.7" fill="none"/><path d="M450.57 53.7H452.97M451.77 52.5V54.9" stroke="#5a8ef0" stroke-width="0.7" fill="none"/><path d="M457.48 56.3H459.88M458.68 55.1V57.5" stroke="#5a8ef0" stroke-width="0.7" fill="none"/><path d="M464.39 58.4H466.79M465.59 57.2V59.6" stroke="#5a8ef0" stroke-width="0.7" fill="none"/><path d="M471.3 60.4H473.7M472.5 59.2V61.6" stroke="#5a8ef0" stroke-width="0.7" fill="none"/><path d="M478.21 63.4H480.61M479.41 62.2V64.6" stroke="#5a8ef0" stroke-width="0.7" fill="none"/><path d="M485.12 67.8H487.52M486.32 66.6V69" stroke="#5a8ef0" stroke-width="0.7" fill="none"/><path d="M492.03 68.5H494.43M493.23 67.3V69.7" stroke="#5a8ef0" stroke-width="0.7" fill="none"/><path d="M498.94 69.2H501.34M500.14 68V70.4" stroke="#5a8ef0" stroke-width="0.7" fill="none"/><path d="M505.85 70.3H508.25M507.05 69.1V71.5" stroke="#5a8ef0" stroke-width="0.7" fill="none"/><path d="M512.76 71H515.16M513.96 69.8V72.2" stroke="#5a8ef0" stroke-width="0.7" fill="none"/><path d="M519.67 71.9H522.07M520.87 70.7V73.1" stroke="#5a8ef0" stroke-width="0.7" fill="none"/><path d="M526.58 72.5H528.98M527.78 71.3V73.7" stroke="#5a8ef0" stroke-width="0.7" fill="none"/><path d="M533.49 72.9H535.89M534.69 71.7V74.1" stroke="#5a8ef0" stroke-width="0.7" fill="none"/><path d="M540.4 73.3H542.8M541.6 72.1V74.5" stroke="#5a8ef0" stroke-width="0.7" fill="none"/>
<polyline points="410.31,21.5 417.22,34.4 424.13,39.8 431.04,45.7 437.95,52.2 444.86,56.9 451.77,59.6 458.68,62.2 465.59,62.5 472.5,65.8 479.41,68.5 486.32,68.9 493.23,69.2 500.14,70 507.05,71.1 513.96,73.3 520.87,75.1 527.78,75.4 534.69,75.5 541.6,79.2" fill="none" stroke="#33adb0" stroke-width="0.85" stroke-linejoin="round"/>
<path d="M410.31 19.5L412.01 21.5L410.31 23.5L408.61 21.5Z" fill="#008c8c"/><path d="M417.22 32.4L418.92 34.4L417.22 36.4L415.52 34.4Z" fill="#008c8c"/><path d="M424.13 37.8L425.83 39.8L424.13 41.8L422.43 39.8Z" fill="#008c8c"/><path d="M431.04 43.7L432.74 45.7L431.04 47.7L429.34 45.7Z" fill="#008c8c"/><path d="M437.95 50.2L439.65 52.2L437.95 54.2L436.25 52.2Z" fill="#008c8c"/><path d="M444.86 54.9L446.56 56.9L444.86 58.9L443.16 56.9Z" fill="#008c8c"/><path d="M451.77 57.6L453.47 59.6L451.77 61.6L450.07 59.6Z" fill="#008c8c"/><path d="M458.68 60.2L460.38 62.2L458.68 64.2L456.98 62.2Z" fill="#008c8c"/><path d="M465.59 60.5L467.29 62.5L465.59 64.5L463.89 62.5Z" fill="#008c8c"/><path d="M472.5 63.8L474.2 65.8L472.5 67.8L470.8 65.8Z" fill="#008c8c"/><path d="M479.41 66.5L481.11 68.5L479.41 70.5L477.71 68.5Z" fill="#008c8c"/><path d="M486.32 66.9L488.02 68.9L486.32 70.9L484.62 68.9Z" fill="#008c8c"/><path d="M493.23 67.2L494.93 69.2L493.23 71.2L491.53 69.2Z" fill="#008c8c"/><path d="M500.14 68L501.84 70L500.14 72L498.44 70Z" fill="#008c8c"/><path d="M507.05 69.1L508.75 71.1L507.05 73.1L505.35 71.1Z" fill="#008c8c"/><path d="M513.96 71.3L515.66 73.3L513.96 75.3L512.26 73.3Z" fill="#008c8c"/><path d="M520.87 73.1L522.57 75.1L520.87 77.1L519.17 75.1Z" fill="#008c8c"/><path d="M527.78 73.4L529.48 75.4L527.78 77.4L526.08 75.4Z" fill="#008c8c"/><path d="M534.69 73.5L536.39 75.5L534.69 77.5L532.99 75.5Z" fill="#008c8c"/><path d="M541.6 77.2L543.3 79.2L541.6 81.2L539.9 79.2Z" fill="#008c8c"/>
<rect x="403.4" y="6.4" width="138.2" height="110.7" fill="none" stroke="#7a7a7a" stroke-width="0.55"/>
<path d="M403.4 117.1V115.8M403.4 6.4V7.7M410.31 117.1V115.8M410.31 6.4V7.7M417.22 117.1V115.8M417.22 6.4V7.7M424.13 117.1V115.8M424.13 6.4V7.7M431.04 117.1V115.8M431.04 6.4V7.7M437.95 117.1V115.8M437.95 6.4V7.7M444.86 117.1V115.8M444.86 6.4V7.7M451.77 117.1V115.8M451.77 6.4V7.7M458.68 117.1V115.8M458.68 6.4V7.7M465.59 117.1V115.8M465.59 6.4V7.7M472.5 117.1V115.8M472.5 6.4V7.7M479.41 117.1V115.8M479.41 6.4V7.7M486.32 117.1V115.8M486.32 6.4V7.7M493.23 117.1V115.8M493.23 6.4V7.7M500.14 117.1V115.8M500.14 6.4V7.7M507.05 117.1V115.8M507.05 6.4V7.7M513.96 117.1V115.8M513.96 6.4V7.7M520.87 117.1V115.8M520.87 6.4V7.7M527.78 117.1V115.8M527.78 6.4V7.7M534.69 117.1V115.8M534.69 6.4V7.7M541.6 117.1V115.8M541.6 6.4V7.7M403.4 117.1H404.7M541.6 117.1H540.3M403.4 94.96H404.7M541.6 94.96H540.3M403.4 72.82H404.7M541.6 72.82H540.3M403.4 50.68H404.7M541.6 50.68H540.3M403.4 28.54H404.7M541.6 28.54H540.3M403.4 6.4H404.7M541.6 6.4H540.3" stroke="#7a7a7a" stroke-width="0.55" fill="none"/>
<g class="tl"><text x="401.8" y="118.25" text-anchor="end">−879.05</text><text x="401.8" y="96.11" text-anchor="end">−879</text><text x="401.8" y="73.97" text-anchor="end">−878.95</text><text x="401.8" y="51.83" text-anchor="end">−878.9</text><text x="401.8" y="29.69" text-anchor="end">−878.85</text><text x="401.8" y="7.55" text-anchor="end">−878.8</text><text x="403.4" y="122.5" text-anchor="middle">0</text><text x="417.22" y="122.5" text-anchor="middle">100</text><text x="431.04" y="122.5" text-anchor="middle">200</text><text x="444.86" y="122.5" text-anchor="middle">300</text><text x="458.68" y="122.5" text-anchor="middle">400</text><text x="472.5" y="122.5" text-anchor="middle">500</text><text x="486.32" y="122.5" text-anchor="middle">600</text><text x="500.14" y="122.5" text-anchor="middle">700</text><text x="513.96" y="122.5" text-anchor="middle">800</text><text x="527.78" y="122.5" text-anchor="middle">900</text><text x="541.6" y="122.5" text-anchor="middle">1,000</text></g>
<text class="al" x="472.5" y="130.7" text-anchor="middle">Iterations</text>
<text class="al" text-anchor="middle" transform="translate(384.25 61.75) rotate(-90)">Function Value</text>
<rect x="512" y="9.9" width="26.2" height="32.2" fill="#fff" stroke="#8c8c8c" stroke-width="0.5"/><path d="M513 13.2H526" stroke="#ff4848" stroke-width="0.85"/><circle cx="519.8" cy="13.2" r="1.6" fill="#ff1a1a"/><text class="lg" x="527" y="14.65">cSO</text><path d="M513 18.35H526" stroke="#ffb428" stroke-width="0.85"/><circle cx="519.8" cy="18.35" r="1.6" fill="#ffaa00"/><text class="lg" x="527" y="19.8">SO</text><path d="M513 23.5H526" stroke="#6cc85a" stroke-width="0.85"/><path d="M517.9 22.2L521.7 22.2L519.8 25.3Z" fill="#4cbb2c"/><text class="lg" x="527" y="24.95">ABC</text><path d="M513 28.65H526" stroke="#ff66ff" stroke-width="0.85"/><circle cx="519.8" cy="28.65" r="1.2" fill="#ff44ff"/><text class="lg" x="527" y="30.1">FMO</text><path d="M513 33.8H526" stroke="#74a0f2" stroke-width="0.85"/><path d="M518.6 33.8H521M519.8 32.6V35" stroke="#5a8ef0" stroke-width="0.7" fill="none"/><text class="lg" x="527" y="35.25">DE</text><path d="M513 38.95H526" stroke="#33adb0" stroke-width="0.85"/><path d="M519.8 36.95L521.5 38.95L519.8 40.95L518.1 38.95Z" fill="#008c8c"/><text class="lg" x="527" y="40.4">GWO</text>
<text class="cap" text-anchor="middle" x="468.2" y="145.5"><tspan font-weight="bold">(c)</tspan><tspan style="font-size:8.6px"> f8</tspan></text>
<polyline points="29.4,261.9 36.4,265.9 43.4,269.6 50.4,271.7 57.4,273 64.4,273.5 71.4,274 78.4,274.6 85.4,275.1 92.4,275.4 99.4,275.6 106.4,275.9 113.4,276.1 120.4,276.4 127.4,276.7 134.4,276.9 141.4,277.2 148.4,277.2 155.4,277.5 162.4,277.7" fill="none" stroke="#ff4848" stroke-width="0.85" stroke-linejoin="round"/>
<circle cx="29.4" cy="261.9" r="1.6" fill="#ff1a1a"/><circle cx="36.4" cy="265.9" r="1.6" fill="#ff1a1a"/><circle cx="43.4" cy="269.6" r="1.6" fill="#ff1a1a"/><circle cx="50.4" cy="271.7" r="1.6" fill="#ff1a1a"/><circle cx="57.4" cy="273" r="1.6" fill="#ff1a1a"/><circle cx="64.4" cy="273.5" r="1.6" fill="#ff1a1a"/><circle cx="71.4" cy="274" r="1.6" fill="#ff1a1a"/><circle cx="78.4" cy="274.6" r="1.6" fill="#ff1a1a"/><circle cx="85.4" cy="275.1" r="1.6" fill="#ff1a1a"/><circle cx="92.4" cy="275.4" r="1.6" fill="#ff1a1a"/><circle cx="99.4" cy="275.6" r="1.6" fill="#ff1a1a"/><circle cx="106.4" cy="275.9" r="1.6" fill="#ff1a1a"/><circle cx="113.4" cy="276.1" r="1.6" fill="#ff1a1a"/><circle cx="120.4" cy="276.4" r="1.6" fill="#ff1a1a"/><circle cx="127.4" cy="276.7" r="1.6" fill="#ff1a1a"/><circle cx="134.4" cy="276.9" r="1.6" fill="#ff1a1a"/><circle cx="141.4" cy="277.2" r="1.6" fill="#ff1a1a"/><circle cx="148.4" cy="277.2" r="1.6" fill="#ff1a1a"/><circle cx="155.4" cy="277.5" r="1.6" fill="#ff1a1a"/><circle cx="162.4" cy="277.7" r="1.6" fill="#ff1a1a"/>
<polyline points="29.4,227.1 36.4,234.5 43.4,239.5 50.4,242.7 57.4,244 64.4,245.6 71.4,253.5 78.4,258 85.4,261.4 92.4,264.3 99.4,264.5 106.4,264.5 113.4,264.5 120.4,264.5 127.4,264.5 134.4,264.5 141.4,264.5 148.4,264.5 155.4,264.5 162.4,264.8" fill="none" stroke="#ffb428" stroke-width="0.85" stroke-linejoin="round"/>
<circle cx="29.4" cy="227.1" r="1.6" fill="#ffaa00"/><circle cx="36.4" cy="234.5" r="1.6" fill="#ffaa00"/><circle cx="43.4" cy="239.5" r="1.6" fill="#ffaa00"/><circle cx="50.4" cy="242.7" r="1.6" fill="#ffaa00"/><circle cx="57.4" cy="244" r="1.6" fill="#ffaa00"/><circle cx="64.4" cy="245.6" r="1.6" fill="#ffaa00"/><circle cx="71.4" cy="253.5" r="1.6" fill="#ffaa00"/><circle cx="78.4" cy="258" r="1.6" fill="#ffaa00"/><circle cx="85.4" cy="261.4" r="1.6" fill="#ffaa00"/><circle cx="92.4" cy="264.3" r="1.6" fill="#ffaa00"/><circle cx="99.4" cy="264.5" r="1.6" fill="#ffaa00"/><circle cx="106.4" cy="264.5" r="1.6" fill="#ffaa00"/><circle cx="113.4" cy="264.5" r="1.6" fill="#ffaa00"/><circle cx="120.4" cy="264.5" r="1.6" fill="#ffaa00"/><circle cx="127.4" cy="264.5" r="1.6" fill="#ffaa00"/><circle cx="134.4" cy="264.5" r="1.6" fill="#ffaa00"/><circle cx="141.4" cy="264.5" r="1.6" fill="#ffaa00"/><circle cx="148.4" cy="264.5" r="1.6" fill="#ffaa00"/><circle cx="155.4" cy="264.5" r="1.6" fill="#ffaa00"/><circle cx="162.4" cy="264.8" r="1.6" fill="#ffaa00"/>
<polyline points="29.4,172.3 36.4,189.9 43.4,196 50.4,201.8 57.4,203.1 64.4,204.2 71.4,205.2 78.4,206 85.4,206.5 92.4,207.1 99.4,207.6 106.4,208.1 113.4,208.7 120.4,209.4 127.4,210 134.4,210.2 141.4,210.5 148.4,211 155.4,211.6 162.4,212.3" fill="none" stroke="#6cc85a" stroke-width="0.85" stroke-linejoin="round"/>
<path d="M27.5 171L31.3 171L29.4 174.1Z" fill="#4cbb2c"/><path d="M34.5 188.6L38.3 188.6L36.4 191.7Z" fill="#4cbb2c"/><path d="M41.5 194.7L45.3 194.7L43.4 197.8Z" fill="#4cbb2c"/><path d="M48.5 200.5L52.3 200.5L50.4 203.6Z" fill="#4cbb2c"/><path d="M55.5 201.8L59.3 201.8L57.4 204.9Z" fill="#4cbb2c"/><path d="M62.5 202.9L66.3 202.9L64.4 206Z" fill="#4cbb2c"/><path d="M69.5 203.9L73.3 203.9L71.4 207Z" fill="#4cbb2c"/><path d="M76.5 204.7L80.3 204.7L78.4 207.8Z" fill="#4cbb2c"/><path d="M83.5 205.2L87.3 205.2L85.4 208.3Z" fill="#4cbb2c"/><path d="M90.5 205.8L94.3 205.8L92.4 208.9Z" fill="#4cbb2c"/><path d="M97.5 206.3L101.3 206.3L99.4 209.4Z" fill="#4cbb2c"/><path d="M104.5 206.8L108.3 206.8L106.4 209.9Z" fill="#4cbb2c"/><path d="M111.5 207.4L115.3 207.4L113.4 210.5Z" fill="#4cbb2c"/><path d="M118.5 208.1L122.3 208.1L120.4 211.2Z" fill="#4cbb2c"/><path d="M125.5 208.7L129.3 208.7L127.4 211.8Z" fill="#4cbb2c"/><path d="M132.5 208.9L136.3 208.9L134.4 212Z" fill="#4cbb2c"/><path d="M139.5 209.2L143.3 209.2L141.4 212.3Z" fill="#4cbb2c"/><path d="M146.5 209.7L150.3 209.7L148.4 212.8Z" fill="#4cbb2c"/><path d="M153.5 210.3L157.3 210.3L155.4 213.4Z" fill="#4cbb2c"/><path d="M160.5 211L164.3 211L162.4 214.1Z" fill="#4cbb2c"/>
<polyline points="29.4,180.2 36.4,202.1 43.4,213.9 50.4,221.8 57.4,226.3 64.4,230.3 71.4,232.1 78.4,234.5 85.4,236.1 92.4,237.4 99.4,238.4 106.4,239 113.4,239.8 120.4,240.3 127.4,241.3 134.4,241.9 141.4,242.7 148.4,243.2 155.4,244 162.4,244.8" fill="none" stroke="#ff66ff" stroke-width="0.85" stroke-linejoin="round"/>
<circle cx="29.4" cy="180.2" r="1.2" fill="#ff44ff"/><circle cx="36.4" cy="202.1" r="1.2" fill="#ff44ff"/><circle cx="43.4" cy="213.9" r="1.2" fill="#ff44ff"/><circle cx="50.4" cy="221.8" r="1.2" fill="#ff44ff"/><circle cx="57.4" cy="226.3" r="1.2" fill="#ff44ff"/><circle cx="64.4" cy="230.3" r="1.2" fill="#ff44ff"/><circle cx="71.4" cy="232.1" r="1.2" fill="#ff44ff"/><circle cx="78.4" cy="234.5" r="1.2" fill="#ff44ff"/><circle cx="85.4" cy="236.1" r="1.2" fill="#ff44ff"/><circle cx="92.4" cy="237.4" r="1.2" fill="#ff44ff"/><circle cx="99.4" cy="238.4" r="1.2" fill="#ff44ff"/><circle cx="106.4" cy="239" r="1.2" fill="#ff44ff"/><circle cx="113.4" cy="239.8" r="1.2" fill="#ff44ff"/><circle cx="120.4" cy="240.3" r="1.2" fill="#ff44ff"/><circle cx="127.4" cy="241.3" r="1.2" fill="#ff44ff"/><circle cx="134.4" cy="241.9" r="1.2" fill="#ff44ff"/><circle cx="141.4" cy="242.7" r="1.2" fill="#ff44ff"/><circle cx="148.4" cy="243.2" r="1.2" fill="#ff44ff"/><circle cx="155.4" cy="244" r="1.2" fill="#ff44ff"/><circle cx="162.4" cy="244.8" r="1.2" fill="#ff44ff"/>
<polyline points="29.4,212.3 36.4,239.5 43.4,251.4 50.4,255.8 57.4,260.1 64.4,262.4 71.4,264 78.4,265.1 85.4,266.7 92.4,267.7 99.4,268.5 106.4,269.3 113.4,269.8 120.4,270.3 127.4,270.6 134.4,270.9 141.4,271.1 148.4,271.4 155.4,271.9 162.4,272.5" fill="none" stroke="#74a0f2" stroke-width="0.85" stroke-linejoin="round"/>
<path d="M28.2 212.3H30.6M29.4 211.1V213.5" stroke="#5a8ef0" stroke-width="0.7" fill="none"/><path d="M35.2 239.5H37.6M36.4 238.3V240.7" stroke="#5a8ef0" stroke-width="0.7" fill="none"/><path d="M42.2 251.4H44.6M43.4 250.2V252.6" stroke="#5a8ef0" stroke-width="0.7" fill="none"/><path d="M49.2 255.8H51.6M50.4 254.6V257" stroke="#5a8ef0" stroke-width="0.7" fill="none"/><path d="M56.2 260.1H58.6M57.4 258.9V261.3" stroke="#5a8ef0" stroke-width="0.7" fill="none"/><path d="M63.2 262.4H65.6M64.4 261.2V263.6" stroke="#5a8ef0" stroke-width="0.7" fill="none"/><path d="M70.2 264H72.6M71.4 262.8V265.2" stroke="#5a8ef0" stroke-width="0.7" fill="none"/><path d="M77.2 265.1H79.6M78.4 263.9V266.3" stroke="#5a8ef0" stroke-width="0.7" fill="none"/><path d="M84.2 266.7H86.6M85.4 265.5V267.9" stroke="#5a8ef0" stroke-width="0.7" fill="none"/><path d="M91.2 267.7H93.6M92.4 266.5V268.9" stroke="#5a8ef0" stroke-width="0.7" fill="none"/><path d="M98.2 268.5H100.6M99.4 267.3V269.7" stroke="#5a8ef0" stroke-width="0.7" fill="none"/><path d="M105.2 269.3H107.6M106.4 268.1V270.5" stroke="#5a8ef0" stroke-width="0.7" fill="none"/><path d="M112.2 269.8H114.6M113.4 268.6V271" stroke="#5a8ef0" stroke-width="0.7" fill="none"/><path d="M119.2 270.3H121.6M120.4 269.1V271.5" stroke="#5a8ef0" stroke-width="0.7" fill="none"/><path d="M126.2 270.6H128.6M127.4 269.4V271.8" stroke="#5a8ef0" stroke-width="0.7" fill="none"/><path d="M133.2 270.9H135.6M134.4 269.7V272.1" stroke="#5a8ef0" stroke-width="0.7" fill="none"/><path d="M140.2 271.1H142.6M141.4 269.9V272.3" stroke="#5a8ef0" stroke-width="0.7" fill="none"/><path d="M147.2 271.4H149.6M148.4 270.2V272.6" stroke="#5a8ef0" stroke-width="0.7" fill="none"/><path d="M154.2 271.9H156.6M155.4 270.7V273.1" stroke="#5a8ef0" stroke-width="0.7" fill="none"/><path d="M161.2 272.5H163.6M162.4 271.3V273.7" stroke="#5a8ef0" stroke-width="0.7" fill="none"/>
<polyline points="29.4,234.2 36.4,241.3 43.4,244.8 50.4,247.7 57.4,250 64.4,251.9 71.4,253.5 78.4,254.8 85.4,256.1 92.4,258 99.4,258.7 106.4,259.3 113.4,260.1 120.4,260.6 127.4,261.6 134.4,262.4 141.4,264.5 148.4,266.7 155.4,269.8 162.4,270.6" fill="none" stroke="#33adb0" stroke-width="0.85" stroke-linejoin="round"/>
<path d="M29.4 232.2L31.1 234.2L29.4 236.2L27.7 234.2Z" fill="#008c8c"/><path d="M36.4 239.3L38.1 241.3L36.4 243.3L34.7 241.3Z" fill="#008c8c"/><path d="M43.4 242.8L45.1 244.8L43.4 246.8L41.7 244.8Z" fill="#008c8c"/><path d="M50.4 245.7L52.1 247.7L50.4 249.7L48.7 247.7Z" fill="#008c8c"/><path d="M57.4 248L59.1 250L57.4 252L55.7 250Z" fill="#008c8c"/><path d="M64.4 249.9L66.1 251.9L64.4 253.9L62.7 251.9Z" fill="#008c8c"/><path d="M71.4 251.5L73.1 253.5L71.4 255.5L69.7 253.5Z" fill="#008c8c"/><path d="M78.4 252.8L80.1 254.8L78.4 256.8L76.7 254.8Z" fill="#008c8c"/><path d="M85.4 254.1L87.1 256.1L85.4 258.1L83.7 256.1Z" fill="#008c8c"/><path d="M92.4 256L94.1 258L92.4 260L90.7 258Z" fill="#008c8c"/><path d="M99.4 256.7L101.1 258.7L99.4 260.7L97.7 258.7Z" fill="#008c8c"/><path d="M106.4 257.3L108.1 259.3L106.4 261.3L104.7 259.3Z" fill="#008c8c"/><path d="M113.4 258.1L115.1 260.1L113.4 262.1L111.7 260.1Z" fill="#008c8c"/><path d="M120.4 258.6L122.1 260.6L120.4 262.6L118.7 260.6Z" fill="#008c8c"/><path d="M127.4 259.6L129.1 261.6L127.4 263.6L125.7 261.6Z" fill="#008c8c"/><path d="M134.4 260.4L136.1 262.4L134.4 264.4L132.7 262.4Z" fill="#008c8c"/><path d="M141.4 262.5L143.1 264.5L141.4 266.5L139.7 264.5Z" fill="#008c8c"/><path d="M148.4 264.7L150.1 266.7L148.4 268.7L146.7 266.7Z" fill="#008c8c"/><path d="M155.4 267.8L157.1 269.8L155.4 271.8L153.7 269.8Z" fill="#008c8c"/><path d="M162.4 268.6L164.1 270.6L162.4 272.6L160.7 270.6Z" fill="#008c8c"/>
<rect x="22.4" y="169.4" width="140" height="111" fill="none" stroke="#7a7a7a" stroke-width="0.55"/>
<path d="M22.4 280.4V279.1M22.4 169.4V170.7M29.4 280.4V279.1M29.4 169.4V170.7M36.4 280.4V279.1M36.4 169.4V170.7M43.4 280.4V279.1M43.4 169.4V170.7M50.4 280.4V279.1M50.4 169.4V170.7M57.4 280.4V279.1M57.4 169.4V170.7M64.4 280.4V279.1M64.4 169.4V170.7M71.4 280.4V279.1M71.4 169.4V170.7M78.4 280.4V279.1M78.4 169.4V170.7M85.4 280.4V279.1M85.4 169.4V170.7M92.4 280.4V279.1M92.4 169.4V170.7M99.4 280.4V279.1M99.4 169.4V170.7M106.4 280.4V279.1M106.4 169.4V170.7M113.4 280.4V279.1M113.4 169.4V170.7M120.4 280.4V279.1M120.4 169.4V170.7M127.4 280.4V279.1M127.4 169.4V170.7M134.4 280.4V279.1M134.4 169.4V170.7M141.4 280.4V279.1M141.4 169.4V170.7M148.4 280.4V279.1M148.4 169.4V170.7M155.4 280.4V279.1M155.4 169.4V170.7M162.4 280.4V279.1M162.4 169.4V170.7M22.4 280.4H23.7M162.4 280.4H161.1M22.4 266.52H23.7M162.4 266.52H161.1M22.4 252.65H23.7M162.4 252.65H161.1M22.4 238.77H23.7M162.4 238.77H161.1M22.4 224.9H23.7M162.4 224.9H161.1M22.4 211.02H23.7M162.4 211.02H161.1M22.4 197.15H23.7M162.4 197.15H161.1M22.4 183.28H23.7M162.4 183.28H161.1M22.4 169.4H23.7M162.4 169.4H161.1" stroke="#7a7a7a" stroke-width="0.55" fill="none"/>
<g class="tl"><text x="20.8" y="281.55" text-anchor="end">0</text><text x="20.8" y="267.67" text-anchor="end">50</text><text x="20.8" y="253.8" text-anchor="end">100</text><text x="20.8" y="239.92" text-anchor="end">150</text><text x="20.8" y="226.05" text-anchor="end">200</text><text x="20.8" y="212.17" text-anchor="end">250</text><text x="20.8" y="198.3" text-anchor="end">300</text><text x="20.8" y="184.43" text-anchor="end">350</text><text x="20.8" y="170.55" text-anchor="end">400</text><text x="22.4" y="285.8" text-anchor="middle">0</text><text x="36.4" y="285.8" text-anchor="middle">100</text><text x="50.4" y="285.8" text-anchor="middle">200</text><text x="64.4" y="285.8" text-anchor="middle">300</text><text x="78.4" y="285.8" text-anchor="middle">400</text><text x="92.4" y="285.8" text-anchor="middle">500</text><text x="106.4" y="285.8" text-anchor="middle">600</text><text x="120.4" y="285.8" text-anchor="middle">700</text><text x="134.4" y="285.8" text-anchor="middle">800</text><text x="148.4" y="285.8" text-anchor="middle">900</text><text x="162.4" y="285.8" text-anchor="middle">1,000</text></g>
<text class="al" x="92.4" y="294" text-anchor="middle">Iterations</text>
<text class="al" text-anchor="middle" transform="translate(11.6 224.9) rotate(-90)">Function Value</text>
<rect x="132.8" y="172.9" width="26.2" height="32.2" fill="#fff" stroke="#8c8c8c" stroke-width="0.5"/><path d="M133.8 176.2H146.8" stroke="#ff4848" stroke-width="0.85"/><circle cx="140.6" cy="176.2" r="1.6" fill="#ff1a1a"/><text class="lg" x="147.8" y="177.65">cSO</text><path d="M133.8 181.35H146.8" stroke="#ffb428" stroke-width="0.85"/><circle cx="140.6" cy="181.35" r="1.6" fill="#ffaa00"/><text class="lg" x="147.8" y="182.8">SO</text><path d="M133.8 186.5H146.8" stroke="#6cc85a" stroke-width="0.85"/><path d="M138.7 185.2L142.5 185.2L140.6 188.3Z" fill="#4cbb2c"/><text class="lg" x="147.8" y="187.95">ABC</text><path d="M133.8 191.65H146.8" stroke="#ff66ff" stroke-width="0.85"/><circle cx="140.6" cy="191.65" r="1.2" fill="#ff44ff"/><text class="lg" x="147.8" y="193.1">FMO</text><path d="M133.8 196.8H146.8" stroke="#74a0f2" stroke-width="0.85"/><path d="M139.4 196.8H141.8M140.6 195.6V198" stroke="#5a8ef0" stroke-width="0.7" fill="none"/><text class="lg" x="147.8" y="198.25">DE</text><path d="M133.8 201.95H146.8" stroke="#33adb0" stroke-width="0.85"/><path d="M140.6 199.95L142.3 201.95L140.6 203.95L138.9 201.95Z" fill="#008c8c"/><text class="lg" x="147.8" y="203.4">GWO</text>
<text class="cap" text-anchor="middle" x="89.4" y="308.8"><tspan font-weight="bold">(d)</tspan><tspan style="font-size:8.6px"> f13</tspan></text>
<polyline points="218.62,221.1 225.64,233.7 232.66,242.5 239.68,247.5 246.7,251.5 253.72,257 260.74,259.3 267.76,261.8 274.78,265.4 281.8,267.3 288.82,268.4 295.84,269.5 302.86,271 309.88,271.3 316.9,271.4 323.92,271.6 330.94,272 337.96,272.3 344.98,272.5 352,272.7" fill="none" stroke="#ff4848" stroke-width="0.85" stroke-linejoin="round"/>
<circle cx="218.62" cy="221.1" r="1.6" fill="#ff1a1a"/><circle cx="225.64" cy="233.7" r="1.6" fill="#ff1a1a"/><circle cx="232.66" cy="242.5" r="1.6" fill="#ff1a1a"/><circle cx="239.68" cy="247.5" r="1.6" fill="#ff1a1a"/><circle cx="246.7" cy="251.5" r="1.6" fill="#ff1a1a"/><circle cx="253.72" cy="257" r="1.6" fill="#ff1a1a"/><circle cx="260.74" cy="259.3" r="1.6" fill="#ff1a1a"/><circle cx="267.76" cy="261.8" r="1.6" fill="#ff1a1a"/><circle cx="274.78" cy="265.4" r="1.6" fill="#ff1a1a"/><circle cx="281.8" cy="267.3" r="1.6" fill="#ff1a1a"/><circle cx="288.82" cy="268.4" r="1.6" fill="#ff1a1a"/><circle cx="295.84" cy="269.5" r="1.6" fill="#ff1a1a"/><circle cx="302.86" cy="271" r="1.6" fill="#ff1a1a"/><circle cx="309.88" cy="271.3" r="1.6" fill="#ff1a1a"/><circle cx="316.9" cy="271.4" r="1.6" fill="#ff1a1a"/><circle cx="323.92" cy="271.6" r="1.6" fill="#ff1a1a"/><circle cx="330.94" cy="272" r="1.6" fill="#ff1a1a"/><circle cx="337.96" cy="272.3" r="1.6" fill="#ff1a1a"/><circle cx="344.98" cy="272.5" r="1.6" fill="#ff1a1a"/><circle cx="352" cy="272.7" r="1.6" fill="#ff1a1a"/>
<polyline points="218.62,178.4 225.64,195.5 232.66,205.3 239.68,213.1 246.7,216 253.72,220.4 260.74,220.8 267.76,225.2 274.78,226.6 281.8,227.5 288.82,229.2 295.84,230.2 302.86,230.8 309.88,231.1 316.9,231.5 323.92,232.5 330.94,234.3 337.96,234.8 344.98,235.5 352,236.8" fill="none" stroke="#ffb428" stroke-width="0.85" stroke-linejoin="round"/>
<circle cx="218.62" cy="178.4" r="1.6" fill="#ffaa00"/><circle cx="225.64" cy="195.5" r="1.6" fill="#ffaa00"/><circle cx="232.66" cy="205.3" r="1.6" fill="#ffaa00"/><circle cx="239.68" cy="213.1" r="1.6" fill="#ffaa00"/><circle cx="246.7" cy="216" r="1.6" fill="#ffaa00"/><circle cx="253.72" cy="220.4" r="1.6" fill="#ffaa00"/><circle cx="260.74" cy="220.8" r="1.6" fill="#ffaa00"/><circle cx="267.76" cy="225.2" r="1.6" fill="#ffaa00"/><circle cx="274.78" cy="226.6" r="1.6" fill="#ffaa00"/><circle cx="281.8" cy="227.5" r="1.6" fill="#ffaa00"/><circle cx="288.82" cy="229.2" r="1.6" fill="#ffaa00"/><circle cx="295.84" cy="230.2" r="1.6" fill="#ffaa00"/><circle cx="302.86" cy="230.8" r="1.6" fill="#ffaa00"/><circle cx="309.88" cy="231.1" r="1.6" fill="#ffaa00"/><circle cx="316.9" cy="231.5" r="1.6" fill="#ffaa00"/><circle cx="323.92" cy="232.5" r="1.6" fill="#ffaa00"/><circle cx="330.94" cy="234.3" r="1.6" fill="#ffaa00"/><circle cx="337.96" cy="234.8" r="1.6" fill="#ffaa00"/><circle cx="344.98" cy="235.5" r="1.6" fill="#ffaa00"/><circle cx="352" cy="236.8" r="1.6" fill="#ffaa00"/>
<polyline points="218.62,181.9 225.64,198.4 232.66,212 239.68,219.3 246.7,223.3 253.72,227 260.74,232.1 267.76,235.4 274.78,236.4 281.8,238.7 288.82,240.9 295.84,243.1 302.86,243.1 309.88,243.9 316.9,246.1 323.92,247.5 330.94,248 337.96,250 344.98,250.4 352,250.4" fill="none" stroke="#6cc85a" stroke-width="0.85" stroke-linejoin="round"/>
<path d="M216.72 180.6L220.52 180.6L218.62 183.7Z" fill="#4cbb2c"/><path d="M223.74 197.1L227.54 197.1L225.64 200.2Z" fill="#4cbb2c"/><path d="M230.76 210.7L234.56 210.7L232.66 213.8Z" fill="#4cbb2c"/><path d="M237.78 218L241.58 218L239.68 221.1Z" fill="#4cbb2c"/><path d="M244.8 222L248.6 222L246.7 225.1Z" fill="#4cbb2c"/><path d="M251.82 225.7L255.62 225.7L253.72 228.8Z" fill="#4cbb2c"/><path d="M258.84 230.8L262.64 230.8L260.74 233.9Z" fill="#4cbb2c"/><path d="M265.86 234.1L269.66 234.1L267.76 237.2Z" fill="#4cbb2c"/><path d="M272.88 235.1L276.68 235.1L274.78 238.2Z" fill="#4cbb2c"/><path d="M279.9 237.4L283.7 237.4L281.8 240.5Z" fill="#4cbb2c"/><path d="M286.92 239.6L290.72 239.6L288.82 242.7Z" fill="#4cbb2c"/><path d="M293.94 241.8L297.74 241.8L295.84 244.9Z" fill="#4cbb2c"/><path d="M300.96 241.8L304.76 241.8L302.86 244.9Z" fill="#4cbb2c"/><path d="M307.98 242.6L311.78 242.6L309.88 245.7Z" fill="#4cbb2c"/><path d="M315 244.8L318.8 244.8L316.9 247.9Z" fill="#4cbb2c"/><path d="M322.02 246.2L325.82 246.2L323.92 249.3Z" fill="#4cbb2c"/><path d="M329.04 246.7L332.84 246.7L330.94 249.8Z" fill="#4cbb2c"/><path d="M336.06 248.7L339.86 248.7L337.96 251.8Z" fill="#4cbb2c"/><path d="M343.08 249.1L346.88 249.1L344.98 252.2Z" fill="#4cbb2c"/><path d="M350.1 249.1L353.9 249.1L352 252.2Z" fill="#4cbb2c"/>
<polyline points="218.62,178.4 225.64,194.8 232.66,206.5 239.68,209.4 246.7,214.1 253.72,219.9 260.74,223.3 267.76,228.7 274.78,229.6 281.8,230.8 288.82,232.5 295.84,232.9 302.86,234.6 309.88,235.4 316.9,236.8 323.92,239.2 330.94,240.6 337.96,242.4 344.98,243.6 352,244.3" fill="none" stroke="#ff66ff" stroke-width="0.85" stroke-linejoin="round"/>
<circle cx="218.62" cy="178.4" r="1.2" fill="#ff44ff"/><circle cx="225.64" cy="194.8" r="1.2" fill="#ff44ff"/><circle cx="232.66" cy="206.5" r="1.2" fill="#ff44ff"/><circle cx="239.68" cy="209.4" r="1.2" fill="#ff44ff"/><circle cx="246.7" cy="214.1" r="1.2" fill="#ff44ff"/><circle cx="253.72" cy="219.9" r="1.2" fill="#ff44ff"/><circle cx="260.74" cy="223.3" r="1.2" fill="#ff44ff"/><circle cx="267.76" cy="228.7" r="1.2" fill="#ff44ff"/><circle cx="274.78" cy="229.6" r="1.2" fill="#ff44ff"/><circle cx="281.8" cy="230.8" r="1.2" fill="#ff44ff"/><circle cx="288.82" cy="232.5" r="1.2" fill="#ff44ff"/><circle cx="295.84" cy="232.9" r="1.2" fill="#ff44ff"/><circle cx="302.86" cy="234.6" r="1.2" fill="#ff44ff"/><circle cx="309.88" cy="235.4" r="1.2" fill="#ff44ff"/><circle cx="316.9" cy="236.8" r="1.2" fill="#ff44ff"/><circle cx="323.92" cy="239.2" r="1.2" fill="#ff44ff"/><circle cx="330.94" cy="240.6" r="1.2" fill="#ff44ff"/><circle cx="337.96" cy="242.4" r="1.2" fill="#ff44ff"/><circle cx="344.98" cy="243.6" r="1.2" fill="#ff44ff"/><circle cx="352" cy="244.3" r="1.2" fill="#ff44ff"/>
<polyline points="218.62,180.9 225.64,196.2 232.66,205.3 239.68,213.5 246.7,217.4 253.72,220.8 260.74,223.3 267.76,227 274.78,227.7 281.8,228.8 288.82,230 295.84,230.7 302.86,231.4 309.88,233.9 316.9,235.4 323.92,236.3 330.94,236.8 337.96,237.7 344.98,238.3 352,239.5" fill="none" stroke="#74a0f2" stroke-width="0.85" stroke-linejoin="round"/>
<path d="M217.42 180.9H219.82M218.62 179.7V182.1" stroke="#5a8ef0" stroke-width="0.7" fill="none"/><path d="M224.44 196.2H226.84M225.64 195V197.4" stroke="#5a8ef0" stroke-width="0.7" fill="none"/><path d="M231.46 205.3H233.86M232.66 204.1V206.5" stroke="#5a8ef0" stroke-width="0.7" fill="none"/><path d="M238.48 213.5H240.88M239.68 212.3V214.7" stroke="#5a8ef0" stroke-width="0.7" fill="none"/><path d="M245.5 217.4H247.9M246.7 216.2V218.6" stroke="#5a8ef0" stroke-width="0.7" fill="none"/><path d="M252.52 220.8H254.92M253.72 219.6V222" stroke="#5a8ef0" stroke-width="0.7" fill="none"/><path d="M259.54 223.3H261.94M260.74 222.1V224.5" stroke="#5a8ef0" stroke-width="0.7" fill="none"/><path d="M266.56 227H268.96M267.76 225.8V228.2" stroke="#5a8ef0" stroke-width="0.7" fill="none"/><path d="M273.58 227.7H275.98M274.78 226.5V228.9" stroke="#5a8ef0" stroke-width="0.7" fill="none"/><path d="M280.6 228.8H283M281.8 227.6V230" stroke="#5a8ef0" stroke-width="0.7" fill="none"/><path d="M287.62 230H290.02M288.82 228.8V231.2" stroke="#5a8ef0" stroke-width="0.7" fill="none"/><path d="M294.64 230.7H297.04M295.84 229.5V231.9" stroke="#5a8ef0" stroke-width="0.7" fill="none"/><path d="M301.66 231.4H304.06M302.86 230.2V232.6" stroke="#5a8ef0" stroke-width="0.7" fill="none"/><path d="M308.68 233.9H311.08M309.88 232.7V235.1" stroke="#5a8ef0" stroke-width="0.7" fill="none"/><path d="M315.7 235.4H318.1M316.9 234.2V236.6" stroke="#5a8ef0" stroke-width="0.7" fill="none"/><path d="M322.72 236.3H325.12M323.92 235.1V237.5" stroke="#5a8ef0" stroke-width="0.7" fill="none"/><path d="M329.74 236.8H332.14M330.94 235.6V238" stroke="#5a8ef0" stroke-width="0.7" fill="none"/><path d="M336.76 237.7H339.16M337.96 236.5V238.9" stroke="#5a8ef0" stroke-width="0.7" fill="none"/><path d="M343.78 238.3H346.18M344.98 237.1V239.5" stroke="#5a8ef0" stroke-width="0.7" fill="none"/><path d="M350.8 239.5H353.2M352 238.3V240.7" stroke="#5a8ef0" stroke-width="0.7" fill="none"/>
<polyline points="218.62,169.9 225.64,188.6 232.66,201.4 239.68,206.2 246.7,210.4 253.72,214.1 260.74,216.4 267.76,220.4 274.78,222.3 281.8,224.4 288.82,225.6 295.84,226.6 302.86,228.9 309.88,233.3 316.9,235.1 323.92,237.3 330.94,238.3 337.96,241.7 344.98,243.1 352,245.8" fill="none" stroke="#33adb0" stroke-width="0.85" stroke-linejoin="round"/>
<path d="M218.62 167.9L220.32 169.9L218.62 171.9L216.92 169.9Z" fill="#008c8c"/><path d="M225.64 186.6L227.34 188.6L225.64 190.6L223.94 188.6Z" fill="#008c8c"/><path d="M232.66 199.4L234.36 201.4L232.66 203.4L230.96 201.4Z" fill="#008c8c"/><path d="M239.68 204.2L241.38 206.2L239.68 208.2L237.98 206.2Z" fill="#008c8c"/><path d="M246.7 208.4L248.4 210.4L246.7 212.4L245 210.4Z" fill="#008c8c"/><path d="M253.72 212.1L255.42 214.1L253.72 216.1L252.02 214.1Z" fill="#008c8c"/><path d="M260.74 214.4L262.44 216.4L260.74 218.4L259.04 216.4Z" fill="#008c8c"/><path d="M267.76 218.4L269.46 220.4L267.76 222.4L266.06 220.4Z" fill="#008c8c"/><path d="M274.78 220.3L276.48 222.3L274.78 224.3L273.08 222.3Z" fill="#008c8c"/><path d="M281.8 222.4L283.5 224.4L281.8 226.4L280.1 224.4Z" fill="#008c8c"/><path d="M288.82 223.6L290.52 225.6L288.82 227.6L287.12 225.6Z" fill="#008c8c"/><path d="M295.84 224.6L297.54 226.6L295.84 228.6L294.14 226.6Z" fill="#008c8c"/><path d="M302.86 226.9L304.56 228.9L302.86 230.9L301.16 228.9Z" fill="#008c8c"/><path d="M309.88 231.3L311.58 233.3L309.88 235.3L308.18 233.3Z" fill="#008c8c"/><path d="M316.9 233.1L318.6 235.1L316.9 237.1L315.2 235.1Z" fill="#008c8c"/><path d="M323.92 235.3L325.62 237.3L323.92 239.3L322.22 237.3Z" fill="#008c8c"/><path d="M330.94 236.3L332.64 238.3L330.94 240.3L329.24 238.3Z" fill="#008c8c"/><path d="M337.96 239.7L339.66 241.7L337.96 243.7L336.26 241.7Z" fill="#008c8c"/><path d="M344.98 241.1L346.68 243.1L344.98 245.1L343.28 243.1Z" fill="#008c8c"/><path d="M352 243.8L353.7 245.8L352 247.8L350.3 245.8Z" fill="#008c8c"/>
<rect x="211.6" y="169.4" width="140.4" height="111" fill="none" stroke="#7a7a7a" stroke-width="0.55"/>
<path d="M211.6 280.4V279.1M211.6 169.4V170.7M218.62 280.4V279.1M218.62 169.4V170.7M225.64 280.4V279.1M225.64 169.4V170.7M232.66 280.4V279.1M232.66 169.4V170.7M239.68 280.4V279.1M239.68 169.4V170.7M246.7 280.4V279.1M246.7 169.4V170.7M253.72 280.4V279.1M253.72 169.4V170.7M260.74 280.4V279.1M260.74 169.4V170.7M267.76 280.4V279.1M267.76 169.4V170.7M274.78 280.4V279.1M274.78 169.4V170.7M281.8 280.4V279.1M281.8 169.4V170.7M288.82 280.4V279.1M288.82 169.4V170.7M295.84 280.4V279.1M295.84 169.4V170.7M302.86 280.4V279.1M302.86 169.4V170.7M309.88 280.4V279.1M309.88 169.4V170.7M316.9 280.4V279.1M316.9 169.4V170.7M323.92 280.4V279.1M323.92 169.4V170.7M330.94 280.4V279.1M330.94 169.4V170.7M337.96 280.4V279.1M337.96 169.4V170.7M344.98 280.4V279.1M344.98 169.4V170.7M352 280.4V279.1M352 169.4V170.7M211.6 280.4H212.9M352 280.4H350.7M211.6 269.3H212.9M352 269.3H350.7M211.6 258.2H212.9M352 258.2H350.7M211.6 247.1H212.9M352 247.1H350.7M211.6 236H212.9M352 236H350.7M211.6 224.9H212.9M352 224.9H350.7M211.6 213.8H212.9M352 213.8H350.7M211.6 202.7H212.9M352 202.7H350.7M211.6 191.6H212.9M352 191.6H350.7M211.6 180.5H212.9M352 180.5H350.7M211.6 169.4H212.9M352 169.4H350.7" stroke="#7a7a7a" stroke-width="0.55" fill="none"/>
<g class="tl"><text x="210" y="281.55" text-anchor="end">302.4</text><text x="210" y="270.45" text-anchor="end">302.6</text><text x="210" y="259.35" text-anchor="end">302.8</text><text x="210" y="248.25" text-anchor="end">303</text><text x="210" y="237.15" text-anchor="end">303.2</text><text x="210" y="226.05" text-anchor="end">303.4</text><text x="210" y="214.95" text-anchor="end">303.6</text><text x="210" y="203.85" text-anchor="end">303.8</text><text x="210" y="192.75" text-anchor="end">304</text><text x="210" y="181.65" text-anchor="end">304.2</text><text x="210" y="170.55" text-anchor="end">304.4</text><text x="211.6" y="285.8" text-anchor="middle">0</text><text x="225.64" y="285.8" text-anchor="middle">100</text><text x="239.68" y="285.8" text-anchor="middle">200</text><text x="253.72" y="285.8" text-anchor="middle">300</text><text x="267.76" y="285.8" text-anchor="middle">400</text><text x="281.8" y="285.8" text-anchor="middle">500</text><text x="295.84" y="285.8" text-anchor="middle">600</text><text x="309.88" y="285.8" text-anchor="middle">700</text><text x="323.92" y="285.8" text-anchor="middle">800</text><text x="337.96" y="285.8" text-anchor="middle">900</text><text x="352" y="285.8" text-anchor="middle">1,000</text></g>
<text class="al" x="281.8" y="294" text-anchor="middle">Iterations</text>
<text class="al" text-anchor="middle" transform="translate(197.45 224.9) rotate(-90)">Function Value</text>
<rect x="322.4" y="172.9" width="26.2" height="32.2" fill="#fff" stroke="#8c8c8c" stroke-width="0.5"/><path d="M323.4 176.2H336.4" stroke="#ff4848" stroke-width="0.85"/><circle cx="330.2" cy="176.2" r="1.6" fill="#ff1a1a"/><text class="lg" x="337.4" y="177.65">cSO</text><path d="M323.4 181.35H336.4" stroke="#ffb428" stroke-width="0.85"/><circle cx="330.2" cy="181.35" r="1.6" fill="#ffaa00"/><text class="lg" x="337.4" y="182.8">SO</text><path d="M323.4 186.5H336.4" stroke="#6cc85a" stroke-width="0.85"/><path d="M328.3 185.2L332.1 185.2L330.2 188.3Z" fill="#4cbb2c"/><text class="lg" x="337.4" y="187.95">ABC</text><path d="M323.4 191.65H336.4" stroke="#ff66ff" stroke-width="0.85"/><circle cx="330.2" cy="191.65" r="1.2" fill="#ff44ff"/><text class="lg" x="337.4" y="193.1">FMO</text><path d="M323.4 196.8H336.4" stroke="#74a0f2" stroke-width="0.85"/><path d="M329 196.8H331.4M330.2 195.6V198" stroke="#5a8ef0" stroke-width="0.7" fill="none"/><text class="lg" x="337.4" y="198.25">DE</text><path d="M323.4 201.95H336.4" stroke="#33adb0" stroke-width="0.85"/><path d="M330.2 199.95L331.9 201.95L330.2 203.95L328.5 201.95Z" fill="#008c8c"/><text class="lg" x="337.4" y="203.4">GWO</text>
<text class="cap" text-anchor="middle" x="278.7" y="308.8"><tspan font-weight="bold">(e)</tspan><tspan style="font-size:8.6px"> f16</tspan></text>
<polyline points="408.31,231.6 415.33,250 422.35,258 429.36,260.6 436.38,261.4 443.39,262.2 450.41,263 457.42,263.5 464.44,263.8 471.45,264 478.47,264.3 485.48,264.3 492.5,264.3 499.51,264.5 506.53,264.5 513.54,264.5 520.56,264.5 527.57,264.5 534.59,264.8 541.6,264.8" fill="none" stroke="#ff4848" stroke-width="0.85" stroke-linejoin="round"/>
<circle cx="408.31" cy="231.6" r="1.6" fill="#ff1a1a"/><circle cx="415.33" cy="250" r="1.6" fill="#ff1a1a"/><circle cx="422.35" cy="258" r="1.6" fill="#ff1a1a"/><circle cx="429.36" cy="260.6" r="1.6" fill="#ff1a1a"/><circle cx="436.38" cy="261.4" r="1.6" fill="#ff1a1a"/><circle cx="443.39" cy="262.2" r="1.6" fill="#ff1a1a"/><circle cx="450.41" cy="263" r="1.6" fill="#ff1a1a"/><circle cx="457.42" cy="263.5" r="1.6" fill="#ff1a1a"/><circle cx="464.44" cy="263.8" r="1.6" fill="#ff1a1a"/><circle cx="471.45" cy="264" r="1.6" fill="#ff1a1a"/><circle cx="478.47" cy="264.3" r="1.6" fill="#ff1a1a"/><circle cx="485.48" cy="264.3" r="1.6" fill="#ff1a1a"/><circle cx="492.5" cy="264.3" r="1.6" fill="#ff1a1a"/><circle cx="499.51" cy="264.5" r="1.6" fill="#ff1a1a"/><circle cx="506.53" cy="264.5" r="1.6" fill="#ff1a1a"/><circle cx="513.54" cy="264.5" r="1.6" fill="#ff1a1a"/><circle cx="520.56" cy="264.5" r="1.6" fill="#ff1a1a"/><circle cx="527.57" cy="264.5" r="1.6" fill="#ff1a1a"/><circle cx="534.59" cy="264.8" r="1.6" fill="#ff1a1a"/><circle cx="541.6" cy="264.8" r="1.6" fill="#ff1a1a"/>
<polyline points="408.31,175 415.33,186.7 422.35,193.8 429.36,198 436.38,202.4 443.39,204.7 450.41,235 457.42,248.7 464.44,253.5 471.45,255.4 478.47,255.5 485.48,255.5 492.5,255.5 499.51,255.5 506.53,255.5 513.54,255.5 520.56,255.5 527.57,255.5 534.59,255.5 541.6,255.5" fill="none" stroke="#ffb428" stroke-width="0.85" stroke-linejoin="round"/>
<circle cx="408.31" cy="175" r="1.6" fill="#ffaa00"/><circle cx="415.33" cy="186.7" r="1.6" fill="#ffaa00"/><circle cx="422.35" cy="193.8" r="1.6" fill="#ffaa00"/><circle cx="429.36" cy="198" r="1.6" fill="#ffaa00"/><circle cx="436.38" cy="202.4" r="1.6" fill="#ffaa00"/><circle cx="443.39" cy="204.7" r="1.6" fill="#ffaa00"/><circle cx="450.41" cy="235" r="1.6" fill="#ffaa00"/><circle cx="457.42" cy="248.7" r="1.6" fill="#ffaa00"/><circle cx="464.44" cy="253.5" r="1.6" fill="#ffaa00"/><circle cx="471.45" cy="255.4" r="1.6" fill="#ffaa00"/><circle cx="478.47" cy="255.5" r="1.6" fill="#ffaa00"/><circle cx="485.48" cy="255.5" r="1.6" fill="#ffaa00"/><circle cx="492.5" cy="255.5" r="1.6" fill="#ffaa00"/><circle cx="499.51" cy="255.5" r="1.6" fill="#ffaa00"/><circle cx="506.53" cy="255.5" r="1.6" fill="#ffaa00"/><circle cx="513.54" cy="255.5" r="1.6" fill="#ffaa00"/><circle cx="520.56" cy="255.5" r="1.6" fill="#ffaa00"/><circle cx="527.57" cy="255.5" r="1.6" fill="#ffaa00"/><circle cx="534.59" cy="255.5" r="1.6" fill="#ffaa00"/><circle cx="541.6" cy="255.5" r="1.6" fill="#ffaa00"/>
<polyline points="408.31,169.6 415.33,190.1 422.35,193.3 429.36,197.7 436.38,199.5 443.39,200.6 450.41,202.1 457.42,202.8 464.44,204.3 471.45,205.7 478.47,206.1 485.48,206.5 492.5,207.1 499.51,207.5 506.53,207.8 513.54,208.3 520.56,208.6 527.57,209 534.59,209.3 541.6,209.3" fill="none" stroke="#6cc85a" stroke-width="0.85" stroke-linejoin="round"/>
<path d="M406.42 168.3L410.21 168.3L408.31 171.4Z" fill="#4cbb2c"/><path d="M413.43 188.8L417.23 188.8L415.33 191.9Z" fill="#4cbb2c"/><path d="M420.45 192L424.25 192L422.35 195.1Z" fill="#4cbb2c"/><path d="M427.46 196.4L431.26 196.4L429.36 199.5Z" fill="#4cbb2c"/><path d="M434.48 198.2L438.27 198.2L436.38 201.3Z" fill="#4cbb2c"/><path d="M441.49 199.3L445.29 199.3L443.39 202.4Z" fill="#4cbb2c"/><path d="M448.51 200.8L452.31 200.8L450.41 203.9Z" fill="#4cbb2c"/><path d="M455.52 201.5L459.32 201.5L457.42 204.6Z" fill="#4cbb2c"/><path d="M462.54 203L466.33 203L464.44 206.1Z" fill="#4cbb2c"/><path d="M469.55 204.4L473.35 204.4L471.45 207.5Z" fill="#4cbb2c"/><path d="M476.57 204.8L480.37 204.8L478.47 207.9Z" fill="#4cbb2c"/><path d="M483.58 205.2L487.38 205.2L485.48 208.3Z" fill="#4cbb2c"/><path d="M490.6 205.8L494.39 205.8L492.5 208.9Z" fill="#4cbb2c"/><path d="M497.61 206.2L501.41 206.2L499.51 209.3Z" fill="#4cbb2c"/><path d="M504.63 206.5L508.43 206.5L506.53 209.6Z" fill="#4cbb2c"/><path d="M511.64 207L515.44 207L513.54 210.1Z" fill="#4cbb2c"/><path d="M518.66 207.3L522.46 207.3L520.56 210.4Z" fill="#4cbb2c"/><path d="M525.67 207.7L529.47 207.7L527.57 210.8Z" fill="#4cbb2c"/><path d="M532.69 208L536.49 208L534.59 211.1Z" fill="#4cbb2c"/><path d="M539.7 208L543.5 208L541.6 211.1Z" fill="#4cbb2c"/>
<polyline points="408.31,189.7 415.33,194 422.35,195.9 429.36,198 436.38,200.9 443.39,202.1 450.41,202.8 457.42,204.7 464.44,206.2 471.45,207.5 478.47,208.3 485.48,209.3 492.5,210.5 499.51,211.5 506.53,211.9 513.54,212.2 520.56,213 527.57,213.7 534.59,214.4 541.6,215.1" fill="none" stroke="#ff66ff" stroke-width="0.85" stroke-linejoin="round"/>
<circle cx="408.31" cy="189.7" r="1.2" fill="#ff44ff"/><circle cx="415.33" cy="194" r="1.2" fill="#ff44ff"/><circle cx="422.35" cy="195.9" r="1.2" fill="#ff44ff"/><circle cx="429.36" cy="198" r="1.2" fill="#ff44ff"/><circle cx="436.38" cy="200.9" r="1.2" fill="#ff44ff"/><circle cx="443.39" cy="202.1" r="1.2" fill="#ff44ff"/><circle cx="450.41" cy="202.8" r="1.2" fill="#ff44ff"/><circle cx="457.42" cy="204.7" r="1.2" fill="#ff44ff"/><circle cx="464.44" cy="206.2" r="1.2" fill="#ff44ff"/><circle cx="471.45" cy="207.5" r="1.2" fill="#ff44ff"/><circle cx="478.47" cy="208.3" r="1.2" fill="#ff44ff"/><circle cx="485.48" cy="209.3" r="1.2" fill="#ff44ff"/><circle cx="492.5" cy="210.5" r="1.2" fill="#ff44ff"/><circle cx="499.51" cy="211.5" r="1.2" fill="#ff44ff"/><circle cx="506.53" cy="211.9" r="1.2" fill="#ff44ff"/><circle cx="513.54" cy="212.2" r="1.2" fill="#ff44ff"/><circle cx="520.56" cy="213" r="1.2" fill="#ff44ff"/><circle cx="527.57" cy="213.7" r="1.2" fill="#ff44ff"/><circle cx="534.59" cy="214.4" r="1.2" fill="#ff44ff"/><circle cx="541.6" cy="215.1" r="1.2" fill="#ff44ff"/>
<polyline points="408.31,178.9 415.33,229.7 422.35,242.9 429.36,248.7 436.38,251.9 443.39,254 450.41,255.8 457.42,257.2 464.44,258.2 471.45,259.3 478.47,260.1 485.48,260.6 492.5,261.1 499.51,261.4 506.53,261.9 513.54,262.2 520.56,262.7 527.57,263 534.59,263.2 541.6,263.5" fill="none" stroke="#74a0f2" stroke-width="0.85" stroke-linejoin="round"/>
<path d="M407.12 178.9H409.51M408.31 177.7V180.1" stroke="#5a8ef0" stroke-width="0.7" fill="none"/><path d="M414.13 229.7H416.53M415.33 228.5V230.9" stroke="#5a8ef0" stroke-width="0.7" fill="none"/><path d="M421.15 242.9H423.55M422.35 241.7V244.1" stroke="#5a8ef0" stroke-width="0.7" fill="none"/><path d="M428.16 248.7H430.56M429.36 247.5V249.9" stroke="#5a8ef0" stroke-width="0.7" fill="none"/><path d="M435.18 251.9H437.57M436.38 250.7V253.1" stroke="#5a8ef0" stroke-width="0.7" fill="none"/><path d="M442.19 254H444.59M443.39 252.8V255.2" stroke="#5a8ef0" stroke-width="0.7" fill="none"/><path d="M449.21 255.8H451.61M450.41 254.6V257" stroke="#5a8ef0" stroke-width="0.7" fill="none"/><path d="M456.22 257.2H458.62M457.42 256V258.4" stroke="#5a8ef0" stroke-width="0.7" fill="none"/><path d="M463.24 258.2H465.63M464.44 257V259.4" stroke="#5a8ef0" stroke-width="0.7" fill="none"/><path d="M470.25 259.3H472.65M471.45 258.1V260.5" stroke="#5a8ef0" stroke-width="0.7" fill="none"/><path d="M477.27 260.1H479.67M478.47 258.9V261.3" stroke="#5a8ef0" stroke-width="0.7" fill="none"/><path d="M484.28 260.6H486.68M485.48 259.4V261.8" stroke="#5a8ef0" stroke-width="0.7" fill="none"/><path d="M491.3 261.1H493.69M492.5 259.9V262.3" stroke="#5a8ef0" stroke-width="0.7" fill="none"/><path d="M498.31 261.4H500.71M499.51 260.2V262.6" stroke="#5a8ef0" stroke-width="0.7" fill="none"/><path d="M505.33 261.9H507.73M506.53 260.7V263.1" stroke="#5a8ef0" stroke-width="0.7" fill="none"/><path d="M512.34 262.2H514.74M513.54 261V263.4" stroke="#5a8ef0" stroke-width="0.7" fill="none"/><path d="M519.36 262.7H521.76M520.56 261.5V263.9" stroke="#5a8ef0" stroke-width="0.7" fill="none"/><path d="M526.37 263H528.77M527.57 261.8V264.2" stroke="#5a8ef0" stroke-width="0.7" fill="none"/><path d="M533.38 263.2H535.79M534.59 262V264.4" stroke="#5a8ef0" stroke-width="0.7" fill="none"/><path d="M540.4 263.5H542.8M541.6 262.3V264.7" stroke="#5a8ef0" stroke-width="0.7" fill="none"/>
<polyline points="408.31,211.3 415.33,217.6 422.35,220.5 429.36,222.9 436.38,225 443.39,227.1 450.41,228.7 457.42,229.7 464.44,230.8 471.45,231.9 478.47,232.9 485.48,234 492.5,235 499.51,236.1 506.53,237.4 513.54,238.2 520.56,239.2 527.57,240.3 534.59,241.3 541.6,246.1" fill="none" stroke="#33adb0" stroke-width="0.85" stroke-linejoin="round"/>
<path d="M408.31 209.3L410.01 211.3L408.31 213.3L406.62 211.3Z" fill="#008c8c"/><path d="M415.33 215.6L417.03 217.6L415.33 219.6L413.63 217.6Z" fill="#008c8c"/><path d="M422.35 218.5L424.05 220.5L422.35 222.5L420.65 220.5Z" fill="#008c8c"/><path d="M429.36 220.9L431.06 222.9L429.36 224.9L427.66 222.9Z" fill="#008c8c"/><path d="M436.38 223L438.07 225L436.38 227L434.68 225Z" fill="#008c8c"/><path d="M443.39 225.1L445.09 227.1L443.39 229.1L441.69 227.1Z" fill="#008c8c"/><path d="M450.41 226.7L452.11 228.7L450.41 230.7L448.71 228.7Z" fill="#008c8c"/><path d="M457.42 227.7L459.12 229.7L457.42 231.7L455.72 229.7Z" fill="#008c8c"/><path d="M464.44 228.8L466.13 230.8L464.44 232.8L462.74 230.8Z" fill="#008c8c"/><path d="M471.45 229.9L473.15 231.9L471.45 233.9L469.75 231.9Z" fill="#008c8c"/><path d="M478.47 230.9L480.17 232.9L478.47 234.9L476.77 232.9Z" fill="#008c8c"/><path d="M485.48 232L487.18 234L485.48 236L483.78 234Z" fill="#008c8c"/><path d="M492.5 233L494.19 235L492.5 237L490.8 235Z" fill="#008c8c"/><path d="M499.51 234.1L501.21 236.1L499.51 238.1L497.81 236.1Z" fill="#008c8c"/><path d="M506.53 235.4L508.23 237.4L506.53 239.4L504.83 237.4Z" fill="#008c8c"/><path d="M513.54 236.2L515.24 238.2L513.54 240.2L511.84 238.2Z" fill="#008c8c"/><path d="M520.56 237.2L522.26 239.2L520.56 241.2L518.86 239.2Z" fill="#008c8c"/><path d="M527.57 238.3L529.27 240.3L527.57 242.3L525.87 240.3Z" fill="#008c8c"/><path d="M534.59 239.3L536.29 241.3L534.59 243.3L532.88 241.3Z" fill="#008c8c"/><path d="M541.6 244.1L543.3 246.1L541.6 248.1L539.9 246.1Z" fill="#008c8c"/>
<rect x="401.3" y="169.4" width="140.3" height="111" fill="none" stroke="#7a7a7a" stroke-width="0.55"/>
<path d="M401.3 280.4V279.1M401.3 169.4V170.7M408.31 280.4V279.1M408.31 169.4V170.7M415.33 280.4V279.1M415.33 169.4V170.7M422.35 280.4V279.1M422.35 169.4V170.7M429.36 280.4V279.1M429.36 169.4V170.7M436.38 280.4V279.1M436.38 169.4V170.7M443.39 280.4V279.1M443.39 169.4V170.7M450.41 280.4V279.1M450.41 169.4V170.7M457.42 280.4V279.1M457.42 169.4V170.7M464.44 280.4V279.1M464.44 169.4V170.7M471.45 280.4V279.1M471.45 169.4V170.7M478.47 280.4V279.1M478.47 169.4V170.7M485.48 280.4V279.1M485.48 169.4V170.7M492.5 280.4V279.1M492.5 169.4V170.7M499.51 280.4V279.1M499.51 169.4V170.7M506.53 280.4V279.1M506.53 169.4V170.7M513.54 280.4V279.1M513.54 169.4V170.7M520.56 280.4V279.1M520.56 169.4V170.7M527.57 280.4V279.1M527.57 169.4V170.7M534.59 280.4V279.1M534.59 169.4V170.7M541.6 280.4V279.1M541.6 169.4V170.7M401.3 280.4H402.6M541.6 280.4H540.3M401.3 264.54H402.6M541.6 264.54H540.3M401.3 248.69H402.6M541.6 248.69H540.3M401.3 232.83H402.6M541.6 232.83H540.3M401.3 216.97H402.6M541.6 216.97H540.3M401.3 201.11H402.6M541.6 201.11H540.3M401.3 185.26H402.6M541.6 185.26H540.3M401.3 169.4H402.6M541.6 169.4H540.3" stroke="#7a7a7a" stroke-width="0.55" fill="none"/>
<g class="tl"><text x="399.7" y="281.55" text-anchor="end">300</text><text x="399.7" y="265.69" text-anchor="end">400</text><text x="399.7" y="249.84" text-anchor="end">500</text><text x="399.7" y="233.98" text-anchor="end">600</text><text x="399.7" y="218.12" text-anchor="end">700</text><text x="399.7" y="202.26" text-anchor="end">800</text><text x="399.7" y="186.41" text-anchor="end">900</text><text x="399.7" y="170.55" text-anchor="end">1,000</text><text x="401.3" y="285.8" text-anchor="middle">0</text><text x="415.33" y="285.8" text-anchor="middle">100</text><text x="429.36" y="285.8" text-anchor="middle">200</text><text x="443.39" y="285.8" text-anchor="middle">300</text><text x="457.42" y="285.8" text-anchor="middle">400</text><text x="471.45" y="285.8" text-anchor="middle">500</text><text x="485.48" y="285.8" text-anchor="middle">600</text><text x="499.51" y="285.8" text-anchor="middle">700</text><text x="513.54" y="285.8" text-anchor="middle">800</text><text x="527.57" y="285.8" text-anchor="middle">900</text><text x="541.6" y="285.8" text-anchor="middle">1,000</text></g>
<text class="al" x="471.45" y="294" text-anchor="middle">Iterations</text>
<text class="al" text-anchor="middle" transform="translate(387.45 224.9) rotate(-90)">Function Value</text>
<rect x="512" y="172.9" width="26.2" height="32.2" fill="#fff" stroke="#8c8c8c" stroke-width="0.5"/><path d="M513 176.2H526" stroke="#ff4848" stroke-width="0.85"/><circle cx="519.8" cy="176.2" r="1.6" fill="#ff1a1a"/><text class="lg" x="527" y="177.65">cSO</text><path d="M513 181.35H526" stroke="#ffb428" stroke-width="0.85"/><circle cx="519.8" cy="181.35" r="1.6" fill="#ffaa00"/><text class="lg" x="527" y="182.8">SO</text><path d="M513 186.5H526" stroke="#6cc85a" stroke-width="0.85"/><path d="M517.9 185.2L521.7 185.2L519.8 188.3Z" fill="#4cbb2c"/><text class="lg" x="527" y="187.95">ABC</text><path d="M513 191.65H526" stroke="#ff66ff" stroke-width="0.85"/><circle cx="519.8" cy="191.65" r="1.2" fill="#ff44ff"/><text class="lg" x="527" y="193.1">FMO</text><path d="M513 196.8H526" stroke="#74a0f2" stroke-width="0.85"/><path d="M518.6 196.8H521M519.8 195.6V198" stroke="#5a8ef0" stroke-width="0.7" fill="none"/><text class="lg" x="527" y="198.25">DE</text><path d="M513 201.95H526" stroke="#33adb0" stroke-width="0.85"/><path d="M519.8 199.95L521.5 201.95L519.8 203.95L518.1 201.95Z" fill="#008c8c"/><text class="lg" x="527" y="203.4">GWO</text>
<text class="cap" text-anchor="middle" x="468.2" y="308.8"><tspan font-weight="bold">(f)</tspan><tspan style="font-size:8.6px"> f17</tspan></text>
<polyline points="29.4,424.1 36.4,432.5 43.4,435.9 50.4,437.8 57.4,438.8 64.4,439.9 71.4,440.7 78.4,441.2 85.4,441.7 92.4,442 99.4,442.3 106.4,442.5 113.4,442.8 120.4,443 127.4,443 134.4,443.3 141.4,443.3 148.4,443.3 155.4,443.6 162.4,443.6" fill="none" stroke="#ff4848" stroke-width="0.85" stroke-linejoin="round"/>
<circle cx="29.4" cy="424.1" r="1.6" fill="#ff1a1a"/><circle cx="36.4" cy="432.5" r="1.6" fill="#ff1a1a"/><circle cx="43.4" cy="435.9" r="1.6" fill="#ff1a1a"/><circle cx="50.4" cy="437.8" r="1.6" fill="#ff1a1a"/><circle cx="57.4" cy="438.8" r="1.6" fill="#ff1a1a"/><circle cx="64.4" cy="439.9" r="1.6" fill="#ff1a1a"/><circle cx="71.4" cy="440.7" r="1.6" fill="#ff1a1a"/><circle cx="78.4" cy="441.2" r="1.6" fill="#ff1a1a"/><circle cx="85.4" cy="441.7" r="1.6" fill="#ff1a1a"/><circle cx="92.4" cy="442" r="1.6" fill="#ff1a1a"/><circle cx="99.4" cy="442.3" r="1.6" fill="#ff1a1a"/><circle cx="106.4" cy="442.5" r="1.6" fill="#ff1a1a"/><circle cx="113.4" cy="442.8" r="1.6" fill="#ff1a1a"/><circle cx="120.4" cy="443" r="1.6" fill="#ff1a1a"/><circle cx="127.4" cy="443" r="1.6" fill="#ff1a1a"/><circle cx="134.4" cy="443.3" r="1.6" fill="#ff1a1a"/><circle cx="141.4" cy="443.3" r="1.6" fill="#ff1a1a"/><circle cx="148.4" cy="443.3" r="1.6" fill="#ff1a1a"/><circle cx="155.4" cy="443.6" r="1.6" fill="#ff1a1a"/><circle cx="162.4" cy="443.6" r="1.6" fill="#ff1a1a"/>
<polyline points="29.4,361.3 36.4,375 43.4,381.1 50.4,386.4 57.4,390.3 64.4,393.7 71.4,418 78.4,422.7 85.4,425.9 92.4,429.1 99.4,429.6 106.4,429.9 113.4,429.9 120.4,429.9 127.4,429.9 134.4,429.9 141.4,429.9 148.4,429.9 155.4,429.9 162.4,430.1" fill="none" stroke="#ffb428" stroke-width="0.85" stroke-linejoin="round"/>
<circle cx="29.4" cy="361.3" r="1.6" fill="#ffaa00"/><circle cx="36.4" cy="375" r="1.6" fill="#ffaa00"/><circle cx="43.4" cy="381.1" r="1.6" fill="#ffaa00"/><circle cx="50.4" cy="386.4" r="1.6" fill="#ffaa00"/><circle cx="57.4" cy="390.3" r="1.6" fill="#ffaa00"/><circle cx="64.4" cy="393.7" r="1.6" fill="#ffaa00"/><circle cx="71.4" cy="418" r="1.6" fill="#ffaa00"/><circle cx="78.4" cy="422.7" r="1.6" fill="#ffaa00"/><circle cx="85.4" cy="425.9" r="1.6" fill="#ffaa00"/><circle cx="92.4" cy="429.1" r="1.6" fill="#ffaa00"/><circle cx="99.4" cy="429.6" r="1.6" fill="#ffaa00"/><circle cx="106.4" cy="429.9" r="1.6" fill="#ffaa00"/><circle cx="113.4" cy="429.9" r="1.6" fill="#ffaa00"/><circle cx="120.4" cy="429.9" r="1.6" fill="#ffaa00"/><circle cx="127.4" cy="429.9" r="1.6" fill="#ffaa00"/><circle cx="134.4" cy="429.9" r="1.6" fill="#ffaa00"/><circle cx="141.4" cy="429.9" r="1.6" fill="#ffaa00"/><circle cx="148.4" cy="429.9" r="1.6" fill="#ffaa00"/><circle cx="155.4" cy="429.9" r="1.6" fill="#ffaa00"/><circle cx="162.4" cy="430.1" r="1.6" fill="#ffaa00"/>
<polyline points="29.4,339.4 36.4,360.8 43.4,371.3 50.4,375 57.4,377.1 64.4,378.5 71.4,379.8 78.4,380.3 85.4,380.8 92.4,381.4 99.4,381.9 106.4,382.4 113.4,382.7 120.4,383.2 127.4,383.5 134.4,383.7 141.4,384.3 148.4,384.5 155.4,385.3 162.4,386.1" fill="none" stroke="#6cc85a" stroke-width="0.85" stroke-linejoin="round"/>
<path d="M27.5 338.1L31.3 338.1L29.4 341.2Z" fill="#4cbb2c"/><path d="M34.5 359.5L38.3 359.5L36.4 362.6Z" fill="#4cbb2c"/><path d="M41.5 370L45.3 370L43.4 373.1Z" fill="#4cbb2c"/><path d="M48.5 373.7L52.3 373.7L50.4 376.8Z" fill="#4cbb2c"/><path d="M55.5 375.8L59.3 375.8L57.4 378.9Z" fill="#4cbb2c"/><path d="M62.5 377.2L66.3 377.2L64.4 380.3Z" fill="#4cbb2c"/><path d="M69.5 378.5L73.3 378.5L71.4 381.6Z" fill="#4cbb2c"/><path d="M76.5 379L80.3 379L78.4 382.1Z" fill="#4cbb2c"/><path d="M83.5 379.5L87.3 379.5L85.4 382.6Z" fill="#4cbb2c"/><path d="M90.5 380.1L94.3 380.1L92.4 383.2Z" fill="#4cbb2c"/><path d="M97.5 380.6L101.3 380.6L99.4 383.7Z" fill="#4cbb2c"/><path d="M104.5 381.1L108.3 381.1L106.4 384.2Z" fill="#4cbb2c"/><path d="M111.5 381.4L115.3 381.4L113.4 384.5Z" fill="#4cbb2c"/><path d="M118.5 381.9L122.3 381.9L120.4 385Z" fill="#4cbb2c"/><path d="M125.5 382.2L129.3 382.2L127.4 385.3Z" fill="#4cbb2c"/><path d="M132.5 382.4L136.3 382.4L134.4 385.5Z" fill="#4cbb2c"/><path d="M139.5 383L143.3 383L141.4 386.1Z" fill="#4cbb2c"/><path d="M146.5 383.2L150.3 383.2L148.4 386.3Z" fill="#4cbb2c"/><path d="M153.5 384L157.3 384L155.4 387.1Z" fill="#4cbb2c"/><path d="M160.5 384.8L164.3 384.8L162.4 387.9Z" fill="#4cbb2c"/>
<polyline points="29.4,375.3 36.4,383.2 43.4,386.4 50.4,388.5 57.4,390.3 64.4,392.2 71.4,393.7 78.4,395.1 85.4,396.9 92.4,398.2 99.4,399.5 106.4,400.3 113.4,401.1 120.4,401.7 127.4,402.4 134.4,403.2 141.4,404 148.4,404.8 155.4,405.6 162.4,406.7" fill="none" stroke="#ff66ff" stroke-width="0.85" stroke-linejoin="round"/>
<circle cx="29.4" cy="375.3" r="1.2" fill="#ff44ff"/><circle cx="36.4" cy="383.2" r="1.2" fill="#ff44ff"/><circle cx="43.4" cy="386.4" r="1.2" fill="#ff44ff"/><circle cx="50.4" cy="388.5" r="1.2" fill="#ff44ff"/><circle cx="57.4" cy="390.3" r="1.2" fill="#ff44ff"/><circle cx="64.4" cy="392.2" r="1.2" fill="#ff44ff"/><circle cx="71.4" cy="393.7" r="1.2" fill="#ff44ff"/><circle cx="78.4" cy="395.1" r="1.2" fill="#ff44ff"/><circle cx="85.4" cy="396.9" r="1.2" fill="#ff44ff"/><circle cx="92.4" cy="398.2" r="1.2" fill="#ff44ff"/><circle cx="99.4" cy="399.5" r="1.2" fill="#ff44ff"/><circle cx="106.4" cy="400.3" r="1.2" fill="#ff44ff"/><circle cx="113.4" cy="401.1" r="1.2" fill="#ff44ff"/><circle cx="120.4" cy="401.7" r="1.2" fill="#ff44ff"/><circle cx="127.4" cy="402.4" r="1.2" fill="#ff44ff"/><circle cx="134.4" cy="403.2" r="1.2" fill="#ff44ff"/><circle cx="141.4" cy="404" r="1.2" fill="#ff44ff"/><circle cx="148.4" cy="404.8" r="1.2" fill="#ff44ff"/><circle cx="155.4" cy="405.6" r="1.2" fill="#ff44ff"/><circle cx="162.4" cy="406.7" r="1.2" fill="#ff44ff"/>
<polyline points="29.4,358.2 36.4,406.1 43.4,418.5 50.4,423.3 57.4,425.4 64.4,427 71.4,428.5 78.4,429.3 85.4,430.1 92.4,430.4 99.4,430.7 106.4,431.2 113.4,431.4 120.4,431.7 127.4,432.2 134.4,432.5 141.4,432.8 148.4,433 155.4,433.3 162.4,433.8" fill="none" stroke="#74a0f2" stroke-width="0.85" stroke-linejoin="round"/>
<path d="M28.2 358.2H30.6M29.4 357V359.4" stroke="#5a8ef0" stroke-width="0.7" fill="none"/><path d="M35.2 406.1H37.6M36.4 404.9V407.3" stroke="#5a8ef0" stroke-width="0.7" fill="none"/><path d="M42.2 418.5H44.6M43.4 417.3V419.7" stroke="#5a8ef0" stroke-width="0.7" fill="none"/><path d="M49.2 423.3H51.6M50.4 422.1V424.5" stroke="#5a8ef0" stroke-width="0.7" fill="none"/><path d="M56.2 425.4H58.6M57.4 424.2V426.6" stroke="#5a8ef0" stroke-width="0.7" fill="none"/><path d="M63.2 427H65.6M64.4 425.8V428.2" stroke="#5a8ef0" stroke-width="0.7" fill="none"/><path d="M70.2 428.5H72.6M71.4 427.3V429.7" stroke="#5a8ef0" stroke-width="0.7" fill="none"/><path d="M77.2 429.3H79.6M78.4 428.1V430.5" stroke="#5a8ef0" stroke-width="0.7" fill="none"/><path d="M84.2 430.1H86.6M85.4 428.9V431.3" stroke="#5a8ef0" stroke-width="0.7" fill="none"/><path d="M91.2 430.4H93.6M92.4 429.2V431.6" stroke="#5a8ef0" stroke-width="0.7" fill="none"/><path d="M98.2 430.7H100.6M99.4 429.5V431.9" stroke="#5a8ef0" stroke-width="0.7" fill="none"/><path d="M105.2 431.2H107.6M106.4 430V432.4" stroke="#5a8ef0" stroke-width="0.7" fill="none"/><path d="M112.2 431.4H114.6M113.4 430.2V432.6" stroke="#5a8ef0" stroke-width="0.7" fill="none"/><path d="M119.2 431.7H121.6M120.4 430.5V432.9" stroke="#5a8ef0" stroke-width="0.7" fill="none"/><path d="M126.2 432.2H128.6M127.4 431V433.4" stroke="#5a8ef0" stroke-width="0.7" fill="none"/><path d="M133.2 432.5H135.6M134.4 431.3V433.7" stroke="#5a8ef0" stroke-width="0.7" fill="none"/><path d="M140.2 432.8H142.6M141.4 431.6V434" stroke="#5a8ef0" stroke-width="0.7" fill="none"/><path d="M147.2 433H149.6M148.4 431.8V434.2" stroke="#5a8ef0" stroke-width="0.7" fill="none"/><path d="M154.2 433.3H156.6M155.4 432.1V434.5" stroke="#5a8ef0" stroke-width="0.7" fill="none"/><path d="M161.2 433.8H163.6M162.4 432.6V435" stroke="#5a8ef0" stroke-width="0.7" fill="none"/>
<polyline points="29.4,399.5 36.4,406.7 43.4,409.6 50.4,411.9 57.4,413.5 64.4,415.4 71.4,416.9 78.4,418 85.4,419.3 92.4,420.6 99.4,421.4 106.4,422 113.4,422.7 120.4,423.3 127.4,423.8 134.4,424.1 141.4,424.6 148.4,424.9 155.4,425.4 162.4,425.9" fill="none" stroke="#33adb0" stroke-width="0.85" stroke-linejoin="round"/>
<path d="M29.4 397.5L31.1 399.5L29.4 401.5L27.7 399.5Z" fill="#008c8c"/><path d="M36.4 404.7L38.1 406.7L36.4 408.7L34.7 406.7Z" fill="#008c8c"/><path d="M43.4 407.6L45.1 409.6L43.4 411.6L41.7 409.6Z" fill="#008c8c"/><path d="M50.4 409.9L52.1 411.9L50.4 413.9L48.7 411.9Z" fill="#008c8c"/><path d="M57.4 411.5L59.1 413.5L57.4 415.5L55.7 413.5Z" fill="#008c8c"/><path d="M64.4 413.4L66.1 415.4L64.4 417.4L62.7 415.4Z" fill="#008c8c"/><path d="M71.4 414.9L73.1 416.9L71.4 418.9L69.7 416.9Z" fill="#008c8c"/><path d="M78.4 416L80.1 418L78.4 420L76.7 418Z" fill="#008c8c"/><path d="M85.4 417.3L87.1 419.3L85.4 421.3L83.7 419.3Z" fill="#008c8c"/><path d="M92.4 418.6L94.1 420.6L92.4 422.6L90.7 420.6Z" fill="#008c8c"/><path d="M99.4 419.4L101.1 421.4L99.4 423.4L97.7 421.4Z" fill="#008c8c"/><path d="M106.4 420L108.1 422L106.4 424L104.7 422Z" fill="#008c8c"/><path d="M113.4 420.7L115.1 422.7L113.4 424.7L111.7 422.7Z" fill="#008c8c"/><path d="M120.4 421.3L122.1 423.3L120.4 425.3L118.7 423.3Z" fill="#008c8c"/><path d="M127.4 421.8L129.1 423.8L127.4 425.8L125.7 423.8Z" fill="#008c8c"/><path d="M134.4 422.1L136.1 424.1L134.4 426.1L132.7 424.1Z" fill="#008c8c"/><path d="M141.4 422.6L143.1 424.6L141.4 426.6L139.7 424.6Z" fill="#008c8c"/><path d="M148.4 422.9L150.1 424.9L148.4 426.9L146.7 424.9Z" fill="#008c8c"/><path d="M155.4 423.4L157.1 425.4L155.4 427.4L153.7 425.4Z" fill="#008c8c"/><path d="M162.4 423.9L164.1 425.9L162.4 427.9L160.7 425.9Z" fill="#008c8c"/>
<rect x="22.4" y="333.4" width="140" height="110.3" fill="none" stroke="#7a7a7a" stroke-width="0.55"/>
<path d="M22.4 443.7V442.4M22.4 333.4V334.7M29.4 443.7V442.4M29.4 333.4V334.7M36.4 443.7V442.4M36.4 333.4V334.7M43.4 443.7V442.4M43.4 333.4V334.7M50.4 443.7V442.4M50.4 333.4V334.7M57.4 443.7V442.4M57.4 333.4V334.7M64.4 443.7V442.4M64.4 333.4V334.7M71.4 443.7V442.4M71.4 333.4V334.7M78.4 443.7V442.4M78.4 333.4V334.7M85.4 443.7V442.4M85.4 333.4V334.7M92.4 443.7V442.4M92.4 333.4V334.7M99.4 443.7V442.4M99.4 333.4V334.7M106.4 443.7V442.4M106.4 333.4V334.7M113.4 443.7V442.4M113.4 333.4V334.7M120.4 443.7V442.4M120.4 333.4V334.7M127.4 443.7V442.4M127.4 333.4V334.7M134.4 443.7V442.4M134.4 333.4V334.7M141.4 443.7V442.4M141.4 333.4V334.7M148.4 443.7V442.4M148.4 333.4V334.7M155.4 443.7V442.4M155.4 333.4V334.7M162.4 443.7V442.4M162.4 333.4V334.7M22.4 443.7H23.7M162.4 443.7H161.1M22.4 425.32H23.7M162.4 425.32H161.1M22.4 406.93H23.7M162.4 406.93H161.1M22.4 388.55H23.7M162.4 388.55H161.1M22.4 370.17H23.7M162.4 370.17H161.1M22.4 351.78H23.7M162.4 351.78H161.1M22.4 333.4H23.7M162.4 333.4H161.1" stroke="#7a7a7a" stroke-width="0.55" fill="none"/>
<g class="tl"><text x="20.8" y="444.85" text-anchor="end">600</text><text x="20.8" y="426.47" text-anchor="end">700</text><text x="20.8" y="408.08" text-anchor="end">800</text><text x="20.8" y="389.7" text-anchor="end">900</text><text x="20.8" y="371.32" text-anchor="end">1,000</text><text x="20.8" y="352.93" text-anchor="end">1,100</text><text x="20.8" y="334.55" text-anchor="end">1,200</text><text x="22.4" y="449.1" text-anchor="middle">0</text><text x="36.4" y="449.1" text-anchor="middle">100</text><text x="50.4" y="449.1" text-anchor="middle">200</text><text x="64.4" y="449.1" text-anchor="middle">300</text><text x="78.4" y="449.1" text-anchor="middle">400</text><text x="92.4" y="449.1" text-anchor="middle">500</text><text x="106.4" y="449.1" text-anchor="middle">600</text><text x="120.4" y="449.1" text-anchor="middle">700</text><text x="134.4" y="449.1" text-anchor="middle">800</text><text x="148.4" y="449.1" text-anchor="middle">900</text><text x="162.4" y="449.1" text-anchor="middle">1,000</text></g>
<text class="al" x="92.4" y="457.3" text-anchor="middle">Iterations</text>
<text class="al" text-anchor="middle" transform="translate(8.15 388.55) rotate(-90)">Function Value</text>
<rect x="132.8" y="336.9" width="26.2" height="32.2" fill="#fff" stroke="#8c8c8c" stroke-width="0.5"/><path d="M133.8 340.2H146.8" stroke="#ff4848" stroke-width="0.85"/><circle cx="140.6" cy="340.2" r="1.6" fill="#ff1a1a"/><text class="lg" x="147.8" y="341.65">cSO</text><path d="M133.8 345.35H146.8" stroke="#ffb428" stroke-width="0.85"/><circle cx="140.6" cy="345.35" r="1.6" fill="#ffaa00"/><text class="lg" x="147.8" y="346.8">SO</text><path d="M133.8 350.5H146.8" stroke="#6cc85a" stroke-width="0.85"/><path d="M138.7 349.2L142.5 349.2L140.6 352.3Z" fill="#4cbb2c"/><text class="lg" x="147.8" y="351.95">ABC</text><path d="M133.8 355.65H146.8" stroke="#ff66ff" stroke-width="0.85"/><circle cx="140.6" cy="355.65" r="1.2" fill="#ff44ff"/><text class="lg" x="147.8" y="357.1">FMO</text><path d="M133.8 360.8H146.8" stroke="#74a0f2" stroke-width="0.85"/><path d="M139.4 360.8H141.8M140.6 359.6V362" stroke="#5a8ef0" stroke-width="0.7" fill="none"/><text class="lg" x="147.8" y="362.25">DE</text><path d="M133.8 365.95H146.8" stroke="#33adb0" stroke-width="0.85"/><path d="M140.6 363.95L142.3 365.95L140.6 367.95L138.9 365.95Z" fill="#008c8c"/><text class="lg" x="147.8" y="367.4">GWO</text>
<text class="cap" text-anchor="middle" x="89.4" y="472.1"><tspan font-weight="bold">(g)</tspan><tspan style="font-size:8.6px"> f18</tspan></text>
<polyline points="218.62,337.6 225.64,383.2 232.66,396.9 239.68,404.3 246.7,407.5 253.72,412.7 260.74,415.4 267.76,418 274.78,419.3 281.8,421.4 288.82,423.3 295.84,424.6 302.86,425.9 309.88,427.2 316.9,428 323.92,428.5 330.94,429.1 337.96,429.9 344.98,431.4 352,432.5" fill="none" stroke="#ff4848" stroke-width="0.85" stroke-linejoin="round"/>
<circle cx="218.62" cy="337.6" r="1.6" fill="#ff1a1a"/><circle cx="225.64" cy="383.2" r="1.6" fill="#ff1a1a"/><circle cx="232.66" cy="396.9" r="1.6" fill="#ff1a1a"/><circle cx="239.68" cy="404.3" r="1.6" fill="#ff1a1a"/><circle cx="246.7" cy="407.5" r="1.6" fill="#ff1a1a"/><circle cx="253.72" cy="412.7" r="1.6" fill="#ff1a1a"/><circle cx="260.74" cy="415.4" r="1.6" fill="#ff1a1a"/><circle cx="267.76" cy="418" r="1.6" fill="#ff1a1a"/><circle cx="274.78" cy="419.3" r="1.6" fill="#ff1a1a"/><circle cx="281.8" cy="421.4" r="1.6" fill="#ff1a1a"/><circle cx="288.82" cy="423.3" r="1.6" fill="#ff1a1a"/><circle cx="295.84" cy="424.6" r="1.6" fill="#ff1a1a"/><circle cx="302.86" cy="425.9" r="1.6" fill="#ff1a1a"/><circle cx="309.88" cy="427.2" r="1.6" fill="#ff1a1a"/><circle cx="316.9" cy="428" r="1.6" fill="#ff1a1a"/><circle cx="323.92" cy="428.5" r="1.6" fill="#ff1a1a"/><circle cx="330.94" cy="429.1" r="1.6" fill="#ff1a1a"/><circle cx="337.96" cy="429.9" r="1.6" fill="#ff1a1a"/><circle cx="344.98" cy="431.4" r="1.6" fill="#ff1a1a"/><circle cx="352" cy="432.5" r="1.6" fill="#ff1a1a"/>
<polyline points="218.62,333.6 225.64,335.7 232.66,340.2 239.68,346 246.7,354.7 253.72,362.6 260.74,377.1 267.76,384.5 274.78,390.3 281.8,393.2 288.82,394.3 295.84,394.8 302.86,394.8 309.88,395.1 316.9,395.1 323.92,395.3 330.94,395.3 337.96,395.6 344.98,395.9 352,396.1" fill="none" stroke="#ffb428" stroke-width="0.85" stroke-linejoin="round"/>
<circle cx="218.62" cy="333.6" r="1.6" fill="#ffaa00"/><circle cx="225.64" cy="335.7" r="1.6" fill="#ffaa00"/><circle cx="232.66" cy="340.2" r="1.6" fill="#ffaa00"/><circle cx="239.68" cy="346" r="1.6" fill="#ffaa00"/><circle cx="246.7" cy="354.7" r="1.6" fill="#ffaa00"/><circle cx="253.72" cy="362.6" r="1.6" fill="#ffaa00"/><circle cx="260.74" cy="377.1" r="1.6" fill="#ffaa00"/><circle cx="267.76" cy="384.5" r="1.6" fill="#ffaa00"/><circle cx="274.78" cy="390.3" r="1.6" fill="#ffaa00"/><circle cx="281.8" cy="393.2" r="1.6" fill="#ffaa00"/><circle cx="288.82" cy="394.3" r="1.6" fill="#ffaa00"/><circle cx="295.84" cy="394.8" r="1.6" fill="#ffaa00"/><circle cx="302.86" cy="394.8" r="1.6" fill="#ffaa00"/><circle cx="309.88" cy="395.1" r="1.6" fill="#ffaa00"/><circle cx="316.9" cy="395.1" r="1.6" fill="#ffaa00"/><circle cx="323.92" cy="395.3" r="1.6" fill="#ffaa00"/><circle cx="330.94" cy="395.3" r="1.6" fill="#ffaa00"/><circle cx="337.96" cy="395.6" r="1.6" fill="#ffaa00"/><circle cx="344.98" cy="395.9" r="1.6" fill="#ffaa00"/><circle cx="352" cy="396.1" r="1.6" fill="#ffaa00"/>
<polyline points="218.62,333.4 225.64,333.4 232.66,333.4 239.68,333.4 246.7,333.4 253.72,333.4 260.74,333.4 267.76,333.4 274.78,333.4 281.8,333.4 288.82,333.4 295.84,333.4 302.86,333.4 309.88,333.4 316.9,333.4 323.92,333.4 330.94,333.4 337.96,333.4 344.98,333.4 352,333.4" fill="none" stroke="#6cc85a" stroke-width="0.85" stroke-linejoin="round"/>
<path d="M216.72 332.1L220.52 332.1L218.62 335.2Z" fill="#4cbb2c"/><path d="M223.74 332.1L227.54 332.1L225.64 335.2Z" fill="#4cbb2c"/><path d="M230.76 332.1L234.56 332.1L232.66 335.2Z" fill="#4cbb2c"/><path d="M237.78 332.1L241.58 332.1L239.68 335.2Z" fill="#4cbb2c"/><path d="M244.8 332.1L248.6 332.1L246.7 335.2Z" fill="#4cbb2c"/><path d="M251.82 332.1L255.62 332.1L253.72 335.2Z" fill="#4cbb2c"/><path d="M258.84 332.1L262.64 332.1L260.74 335.2Z" fill="#4cbb2c"/><path d="M265.86 332.1L269.66 332.1L267.76 335.2Z" fill="#4cbb2c"/><path d="M272.88 332.1L276.68 332.1L274.78 335.2Z" fill="#4cbb2c"/><path d="M279.9 332.1L283.7 332.1L281.8 335.2Z" fill="#4cbb2c"/><path d="M286.92 332.1L290.72 332.1L288.82 335.2Z" fill="#4cbb2c"/><path d="M293.94 332.1L297.74 332.1L295.84 335.2Z" fill="#4cbb2c"/><path d="M300.96 332.1L304.76 332.1L302.86 335.2Z" fill="#4cbb2c"/><path d="M307.98 332.1L311.78 332.1L309.88 335.2Z" fill="#4cbb2c"/><path d="M315 332.1L318.8 332.1L316.9 335.2Z" fill="#4cbb2c"/><path d="M322.02 332.1L325.82 332.1L323.92 335.2Z" fill="#4cbb2c"/><path d="M329.04 332.1L332.84 332.1L330.94 335.2Z" fill="#4cbb2c"/><path d="M336.06 332.1L339.86 332.1L337.96 335.2Z" fill="#4cbb2c"/><path d="M343.08 332.1L346.88 332.1L344.98 335.2Z" fill="#4cbb2c"/><path d="M350.1 332.1L353.9 332.1L352 335.2Z" fill="#4cbb2c"/>
<polyline points="218.62,333.4 225.64,333.4 232.66,333.4 239.68,333.4 246.7,333.4 253.72,333.4 260.74,333.4 267.76,333.4 274.78,333.4 281.8,333.4 288.82,333.4 295.84,333.4 302.86,333.4 309.88,333.4 316.9,333.4 323.92,333.4 330.94,333.4 337.96,333.4 344.98,333.4 352,333.4" fill="none" stroke="#ff66ff" stroke-width="0.85" stroke-linejoin="round"/>
<circle cx="218.62" cy="333.4" r="1.2" fill="#ff44ff"/><circle cx="225.64" cy="333.4" r="1.2" fill="#ff44ff"/><circle cx="232.66" cy="333.4" r="1.2" fill="#ff44ff"/><circle cx="239.68" cy="333.4" r="1.2" fill="#ff44ff"/><circle cx="246.7" cy="333.4" r="1.2" fill="#ff44ff"/><circle cx="253.72" cy="333.4" r="1.2" fill="#ff44ff"/><circle cx="260.74" cy="333.4" r="1.2" fill="#ff44ff"/><circle cx="267.76" cy="333.4" r="1.2" fill="#ff44ff"/><circle cx="274.78" cy="333.4" r="1.2" fill="#ff44ff"/><circle cx="281.8" cy="333.4" r="1.2" fill="#ff44ff"/><circle cx="288.82" cy="333.4" r="1.2" fill="#ff44ff"/><circle cx="295.84" cy="333.4" r="1.2" fill="#ff44ff"/><circle cx="302.86" cy="333.4" r="1.2" fill="#ff44ff"/><circle cx="309.88" cy="333.4" r="1.2" fill="#ff44ff"/><circle cx="316.9" cy="333.4" r="1.2" fill="#ff44ff"/><circle cx="323.92" cy="333.4" r="1.2" fill="#ff44ff"/><circle cx="330.94" cy="333.4" r="1.2" fill="#ff44ff"/><circle cx="337.96" cy="333.4" r="1.2" fill="#ff44ff"/><circle cx="344.98" cy="333.4" r="1.2" fill="#ff44ff"/><circle cx="352" cy="333.4" r="1.2" fill="#ff44ff"/>
<polyline points="218.62,334.2 225.64,336.8 232.66,341 239.68,345.5 246.7,349.5 253.72,353.4 260.74,356.8 267.76,359.5 274.78,362.1 281.8,364.5 288.82,366.6 295.84,368.4 302.86,370 309.88,371.1 316.9,371.9 323.92,372.7 330.94,373.7 337.96,374.5 344.98,375.8 352,377.1" fill="none" stroke="#74a0f2" stroke-width="0.85" stroke-linejoin="round"/>
<path d="M217.42 334.2H219.82M218.62 333V335.4" stroke="#5a8ef0" stroke-width="0.7" fill="none"/><path d="M224.44 336.8H226.84M225.64 335.6V338" stroke="#5a8ef0" stroke-width="0.7" fill="none"/><path d="M231.46 341H233.86M232.66 339.8V342.2" stroke="#5a8ef0" stroke-width="0.7" fill="none"/><path d="M238.48 345.5H240.88M239.68 344.3V346.7" stroke="#5a8ef0" stroke-width="0.7" fill="none"/><path d="M245.5 349.5H247.9M246.7 348.3V350.7" stroke="#5a8ef0" stroke-width="0.7" fill="none"/><path d="M252.52 353.4H254.92M253.72 352.2V354.6" stroke="#5a8ef0" stroke-width="0.7" fill="none"/><path d="M259.54 356.8H261.94M260.74 355.6V358" stroke="#5a8ef0" stroke-width="0.7" fill="none"/><path d="M266.56 359.5H268.96M267.76 358.3V360.7" stroke="#5a8ef0" stroke-width="0.7" fill="none"/><path d="M273.58 362.1H275.98M274.78 360.9V363.3" stroke="#5a8ef0" stroke-width="0.7" fill="none"/><path d="M280.6 364.5H283M281.8 363.3V365.7" stroke="#5a8ef0" stroke-width="0.7" fill="none"/><path d="M287.62 366.6H290.02M288.82 365.4V367.8" stroke="#5a8ef0" stroke-width="0.7" fill="none"/><path d="M294.64 368.4H297.04M295.84 367.2V369.6" stroke="#5a8ef0" stroke-width="0.7" fill="none"/><path d="M301.66 370H304.06M302.86 368.8V371.2" stroke="#5a8ef0" stroke-width="0.7" fill="none"/><path d="M308.68 371.1H311.08M309.88 369.9V372.3" stroke="#5a8ef0" stroke-width="0.7" fill="none"/><path d="M315.7 371.9H318.1M316.9 370.7V373.1" stroke="#5a8ef0" stroke-width="0.7" fill="none"/><path d="M322.72 372.7H325.12M323.92 371.5V373.9" stroke="#5a8ef0" stroke-width="0.7" fill="none"/><path d="M329.74 373.7H332.14M330.94 372.5V374.9" stroke="#5a8ef0" stroke-width="0.7" fill="none"/><path d="M336.76 374.5H339.16M337.96 373.3V375.7" stroke="#5a8ef0" stroke-width="0.7" fill="none"/><path d="M343.78 375.8H346.18M344.98 374.6V377" stroke="#5a8ef0" stroke-width="0.7" fill="none"/><path d="M350.8 377.1H353.2M352 375.9V378.3" stroke="#5a8ef0" stroke-width="0.7" fill="none"/>
<polyline points="218.62,335 225.64,338.4 232.66,341 239.68,344.7 246.7,346 253.72,347.3 260.74,348.7 267.76,349.5 274.78,350.2 281.8,351.3 288.82,352.1 295.84,352.9 302.86,353.4 309.88,353.9 316.9,354.7 323.92,355.3 330.94,356 337.96,356.6 344.98,357.4 352,363.2" fill="none" stroke="#33adb0" stroke-width="0.85" stroke-linejoin="round"/>
<path d="M218.62 333L220.32 335L218.62 337L216.92 335Z" fill="#008c8c"/><path d="M225.64 336.4L227.34 338.4L225.64 340.4L223.94 338.4Z" fill="#008c8c"/><path d="M232.66 339L234.36 341L232.66 343L230.96 341Z" fill="#008c8c"/><path d="M239.68 342.7L241.38 344.7L239.68 346.7L237.98 344.7Z" fill="#008c8c"/><path d="M246.7 344L248.4 346L246.7 348L245 346Z" fill="#008c8c"/><path d="M253.72 345.3L255.42 347.3L253.72 349.3L252.02 347.3Z" fill="#008c8c"/><path d="M260.74 346.7L262.44 348.7L260.74 350.7L259.04 348.7Z" fill="#008c8c"/><path d="M267.76 347.5L269.46 349.5L267.76 351.5L266.06 349.5Z" fill="#008c8c"/><path d="M274.78 348.2L276.48 350.2L274.78 352.2L273.08 350.2Z" fill="#008c8c"/><path d="M281.8 349.3L283.5 351.3L281.8 353.3L280.1 351.3Z" fill="#008c8c"/><path d="M288.82 350.1L290.52 352.1L288.82 354.1L287.12 352.1Z" fill="#008c8c"/><path d="M295.84 350.9L297.54 352.9L295.84 354.9L294.14 352.9Z" fill="#008c8c"/><path d="M302.86 351.4L304.56 353.4L302.86 355.4L301.16 353.4Z" fill="#008c8c"/><path d="M309.88 351.9L311.58 353.9L309.88 355.9L308.18 353.9Z" fill="#008c8c"/><path d="M316.9 352.7L318.6 354.7L316.9 356.7L315.2 354.7Z" fill="#008c8c"/><path d="M323.92 353.3L325.62 355.3L323.92 357.3L322.22 355.3Z" fill="#008c8c"/><path d="M330.94 354L332.64 356L330.94 358L329.24 356Z" fill="#008c8c"/><path d="M337.96 354.6L339.66 356.6L337.96 358.6L336.26 356.6Z" fill="#008c8c"/><path d="M344.98 355.4L346.68 357.4L344.98 359.4L343.28 357.4Z" fill="#008c8c"/><path d="M352 361.2L353.7 363.2L352 365.2L350.3 363.2Z" fill="#008c8c"/>
<rect x="211.6" y="333.4" width="140.4" height="110.3" fill="none" stroke="#7a7a7a" stroke-width="0.55"/>
<path d="M211.6 443.7V442.4M211.6 333.4V334.7M218.62 443.7V442.4M218.62 333.4V334.7M225.64 443.7V442.4M225.64 333.4V334.7M232.66 443.7V442.4M232.66 333.4V334.7M239.68 443.7V442.4M239.68 333.4V334.7M246.7 443.7V442.4M246.7 333.4V334.7M253.72 443.7V442.4M253.72 333.4V334.7M260.74 443.7V442.4M260.74 333.4V334.7M267.76 443.7V442.4M267.76 333.4V334.7M274.78 443.7V442.4M274.78 333.4V334.7M281.8 443.7V442.4M281.8 333.4V334.7M288.82 443.7V442.4M288.82 333.4V334.7M295.84 443.7V442.4M295.84 333.4V334.7M302.86 443.7V442.4M302.86 333.4V334.7M309.88 443.7V442.4M309.88 333.4V334.7M316.9 443.7V442.4M316.9 333.4V334.7M323.92 443.7V442.4M323.92 333.4V334.7M330.94 443.7V442.4M330.94 333.4V334.7M337.96 443.7V442.4M337.96 333.4V334.7M344.98 443.7V442.4M344.98 333.4V334.7M352 443.7V442.4M352 333.4V334.7M211.6 443.7H212.9M352 443.7H350.7M211.6 427.94H212.9M352 427.94H350.7M211.6 412.19H212.9M352 412.19H350.7M211.6 396.43H212.9M352 396.43H350.7M211.6 380.67H212.9M352 380.67H350.7M211.6 364.91H212.9M352 364.91H350.7M211.6 349.16H212.9M352 349.16H350.7M211.6 333.4H212.9M352 333.4H350.7" stroke="#7a7a7a" stroke-width="0.55" fill="none"/>
<g class="tl"><text x="210" y="444.85" text-anchor="end">611.5</text><text x="210" y="429.09" text-anchor="end">612</text><text x="210" y="413.34" text-anchor="end">612.5</text><text x="210" y="397.58" text-anchor="end">613</text><text x="210" y="381.82" text-anchor="end">613.5</text><text x="210" y="366.06" text-anchor="end">614</text><text x="210" y="350.31" text-anchor="end">614.5</text><text x="210" y="334.55" text-anchor="end">615</text><text x="211.6" y="449.1" text-anchor="middle">0</text><text x="225.64" y="449.1" text-anchor="middle">100</text><text x="239.68" y="449.1" text-anchor="middle">200</text><text x="253.72" y="449.1" text-anchor="middle">300</text><text x="267.76" y="449.1" text-anchor="middle">400</text><text x="281.8" y="449.1" text-anchor="middle">500</text><text x="295.84" y="449.1" text-anchor="middle">600</text><text x="309.88" y="449.1" text-anchor="middle">700</text><text x="323.92" y="449.1" text-anchor="middle">800</text><text x="337.96" y="449.1" text-anchor="middle">900</text><text x="352" y="449.1" text-anchor="middle">1,000</text></g>
<text class="al" x="281.8" y="457.3" text-anchor="middle">Iterations</text>
<text class="al" text-anchor="middle" transform="translate(197.45 388.55) rotate(-90)">Function Value</text>
<rect x="322.4" y="336.9" width="26.2" height="32.2" fill="#fff" stroke="#8c8c8c" stroke-width="0.5"/><path d="M323.4 340.2H336.4" stroke="#ff4848" stroke-width="0.85"/><circle cx="330.2" cy="340.2" r="1.6" fill="#ff1a1a"/><text class="lg" x="337.4" y="341.65">cSO</text><path d="M323.4 345.35H336.4" stroke="#ffb428" stroke-width="0.85"/><circle cx="330.2" cy="345.35" r="1.6" fill="#ffaa00"/><text class="lg" x="337.4" y="346.8">SO</text><path d="M323.4 350.5H336.4" stroke="#6cc85a" stroke-width="0.85"/><path d="M328.3 349.2L332.1 349.2L330.2 352.3Z" fill="#4cbb2c"/><text class="lg" x="337.4" y="351.95">ABC</text><path d="M323.4 355.65H336.4" stroke="#ff66ff" stroke-width="0.85"/><circle cx="330.2" cy="355.65" r="1.2" fill="#ff44ff"/><text class="lg" x="337.4" y="357.1">FMO</text><path d="M323.4 360.8H336.4" stroke="#74a0f2" stroke-width="0.85"/><path d="M329 360.8H331.4M330.2 359.6V362" stroke="#5a8ef0" stroke-width="0.7" fill="none"/><text class="lg" x="337.4" y="362.25">DE</text><path d="M323.4 365.95H336.4" stroke="#33adb0" stroke-width="0.85"/><path d="M330.2 363.95L331.9 365.95L330.2 367.95L328.5 365.95Z" fill="#008c8c"/><text class="lg" x="337.4" y="367.4">GWO</text>
<text class="cap" text-anchor="middle" x="278.7" y="472.1"><tspan font-weight="bold">(h)</tspan><tspan style="font-size:8.6px"> f20</tspan></text>
<polyline points="408.31,411.4 415.33,439.2 422.35,439.6 429.36,439.6 436.38,439.6 443.39,439.6 450.41,439.6 457.42,439.6 464.44,439.6 471.45,439.6 478.47,440 485.48,440 492.5,440 499.51,440 506.53,440 513.54,440 520.56,440 527.57,440 534.59,440 541.6,440" fill="none" stroke="#ff4848" stroke-width="0.85" stroke-linejoin="round"/>
<circle cx="408.31" cy="411.4" r="1.6" fill="#ff1a1a"/><circle cx="415.33" cy="439.2" r="1.6" fill="#ff1a1a"/><circle cx="422.35" cy="439.6" r="1.6" fill="#ff1a1a"/><circle cx="429.36" cy="439.6" r="1.6" fill="#ff1a1a"/><circle cx="436.38" cy="439.6" r="1.6" fill="#ff1a1a"/><circle cx="443.39" cy="439.6" r="1.6" fill="#ff1a1a"/><circle cx="450.41" cy="439.6" r="1.6" fill="#ff1a1a"/><circle cx="457.42" cy="439.6" r="1.6" fill="#ff1a1a"/><circle cx="464.44" cy="439.6" r="1.6" fill="#ff1a1a"/><circle cx="471.45" cy="439.6" r="1.6" fill="#ff1a1a"/><circle cx="478.47" cy="440" r="1.6" fill="#ff1a1a"/><circle cx="485.48" cy="440" r="1.6" fill="#ff1a1a"/><circle cx="492.5" cy="440" r="1.6" fill="#ff1a1a"/><circle cx="499.51" cy="440" r="1.6" fill="#ff1a1a"/><circle cx="506.53" cy="440" r="1.6" fill="#ff1a1a"/><circle cx="513.54" cy="440" r="1.6" fill="#ff1a1a"/><circle cx="520.56" cy="440" r="1.6" fill="#ff1a1a"/><circle cx="527.57" cy="440" r="1.6" fill="#ff1a1a"/><circle cx="534.59" cy="440" r="1.6" fill="#ff1a1a"/><circle cx="541.6" cy="440" r="1.6" fill="#ff1a1a"/>
<polyline points="408.31,358.8 415.33,373.4 422.35,380.7 429.36,385.4 436.38,386.8 443.39,387.7 450.41,395.3 457.42,397 464.44,397.3 471.45,397.3 478.47,397.3 485.48,397.3 492.5,397.3 499.51,397.3 506.53,397.3 513.54,397.3 520.56,397.3 527.57,397.3 534.59,397.3 541.6,397.3" fill="none" stroke="#ffb428" stroke-width="0.85" stroke-linejoin="round"/>
<circle cx="408.31" cy="358.8" r="1.6" fill="#ffaa00"/><circle cx="415.33" cy="373.4" r="1.6" fill="#ffaa00"/><circle cx="422.35" cy="380.7" r="1.6" fill="#ffaa00"/><circle cx="429.36" cy="385.4" r="1.6" fill="#ffaa00"/><circle cx="436.38" cy="386.8" r="1.6" fill="#ffaa00"/><circle cx="443.39" cy="387.7" r="1.6" fill="#ffaa00"/><circle cx="450.41" cy="395.3" r="1.6" fill="#ffaa00"/><circle cx="457.42" cy="397" r="1.6" fill="#ffaa00"/><circle cx="464.44" cy="397.3" r="1.6" fill="#ffaa00"/><circle cx="471.45" cy="397.3" r="1.6" fill="#ffaa00"/><circle cx="478.47" cy="397.3" r="1.6" fill="#ffaa00"/><circle cx="485.48" cy="397.3" r="1.6" fill="#ffaa00"/><circle cx="492.5" cy="397.3" r="1.6" fill="#ffaa00"/><circle cx="499.51" cy="397.3" r="1.6" fill="#ffaa00"/><circle cx="506.53" cy="397.3" r="1.6" fill="#ffaa00"/><circle cx="513.54" cy="397.3" r="1.6" fill="#ffaa00"/><circle cx="520.56" cy="397.3" r="1.6" fill="#ffaa00"/><circle cx="527.57" cy="397.3" r="1.6" fill="#ffaa00"/><circle cx="534.59" cy="397.3" r="1.6" fill="#ffaa00"/><circle cx="541.6" cy="397.3" r="1.6" fill="#ffaa00"/>
<polyline points="408.31,342 415.33,356.1 422.35,359.9 429.36,366.8 436.38,371.9 443.39,373.4 450.41,382.5 457.42,392.7 464.44,395 471.45,396.5 478.47,398.2 485.48,399.5 492.5,400.6 499.51,403.2 506.53,403.2 513.54,403.2 520.56,405 527.57,406.5 534.59,407 541.6,407.5" fill="none" stroke="#6cc85a" stroke-width="0.85" stroke-linejoin="round"/>
<path d="M406.42 340.7L410.21 340.7L408.31 343.8Z" fill="#4cbb2c"/><path d="M413.43 354.8L417.23 354.8L415.33 357.9Z" fill="#4cbb2c"/><path d="M420.45 358.6L424.25 358.6L422.35 361.7Z" fill="#4cbb2c"/><path d="M427.46 365.5L431.26 365.5L429.36 368.6Z" fill="#4cbb2c"/><path d="M434.48 370.6L438.27 370.6L436.38 373.7Z" fill="#4cbb2c"/><path d="M441.49 372.1L445.29 372.1L443.39 375.2Z" fill="#4cbb2c"/><path d="M448.51 381.2L452.31 381.2L450.41 384.3Z" fill="#4cbb2c"/><path d="M455.52 391.4L459.32 391.4L457.42 394.5Z" fill="#4cbb2c"/><path d="M462.54 393.7L466.33 393.7L464.44 396.8Z" fill="#4cbb2c"/><path d="M469.55 395.2L473.35 395.2L471.45 398.3Z" fill="#4cbb2c"/><path d="M476.57 396.9L480.37 396.9L478.47 400Z" fill="#4cbb2c"/><path d="M483.58 398.2L487.38 398.2L485.48 401.3Z" fill="#4cbb2c"/><path d="M490.6 399.3L494.39 399.3L492.5 402.4Z" fill="#4cbb2c"/><path d="M497.61 401.9L501.41 401.9L499.51 405Z" fill="#4cbb2c"/><path d="M504.63 401.9L508.43 401.9L506.53 405Z" fill="#4cbb2c"/><path d="M511.64 401.9L515.44 401.9L513.54 405Z" fill="#4cbb2c"/><path d="M518.66 403.7L522.46 403.7L520.56 406.8Z" fill="#4cbb2c"/><path d="M525.67 405.2L529.47 405.2L527.57 408.3Z" fill="#4cbb2c"/><path d="M532.69 405.7L536.49 405.7L534.59 408.8Z" fill="#4cbb2c"/><path d="M539.7 406.2L543.5 406.2L541.6 409.3Z" fill="#4cbb2c"/>
<polyline points="408.31,333.1 415.33,346 422.35,348.9 429.36,351.6 436.38,356.6 443.39,359.5 450.41,361.3 457.42,363.4 464.44,365.3 471.45,367.9 478.47,370.5 485.48,373.7 492.5,375.3 499.51,377.1 506.53,381.1 513.54,382.4 520.56,383.7 527.57,385 534.59,385.6 541.6,387.7" fill="none" stroke="#ff66ff" stroke-width="0.85" stroke-linejoin="round"/>
<circle cx="408.31" cy="333.1" r="1.2" fill="#ff44ff"/><circle cx="415.33" cy="346" r="1.2" fill="#ff44ff"/><circle cx="422.35" cy="348.9" r="1.2" fill="#ff44ff"/><circle cx="429.36" cy="351.6" r="1.2" fill="#ff44ff"/><circle cx="436.38" cy="356.6" r="1.2" fill="#ff44ff"/><circle cx="443.39" cy="359.5" r="1.2" fill="#ff44ff"/><circle cx="450.41" cy="361.3" r="1.2" fill="#ff44ff"/><circle cx="457.42" cy="363.4" r="1.2" fill="#ff44ff"/><circle cx="464.44" cy="365.3" r="1.2" fill="#ff44ff"/><circle cx="471.45" cy="367.9" r="1.2" fill="#ff44ff"/><circle cx="478.47" cy="370.5" r="1.2" fill="#ff44ff"/><circle cx="485.48" cy="373.7" r="1.2" fill="#ff44ff"/><circle cx="492.5" cy="375.3" r="1.2" fill="#ff44ff"/><circle cx="499.51" cy="377.1" r="1.2" fill="#ff44ff"/><circle cx="506.53" cy="381.1" r="1.2" fill="#ff44ff"/><circle cx="513.54" cy="382.4" r="1.2" fill="#ff44ff"/><circle cx="520.56" cy="383.7" r="1.2" fill="#ff44ff"/><circle cx="527.57" cy="385" r="1.2" fill="#ff44ff"/><circle cx="534.59" cy="385.6" r="1.2" fill="#ff44ff"/><circle cx="541.6" cy="387.7" r="1.2" fill="#ff44ff"/>
<polyline points="408.31,364.9 415.33,385.6 422.35,396.4 429.36,403.7 436.38,407 443.39,408.9 450.41,410.3 457.42,411.4 464.44,412.6 471.45,413.6 478.47,413.9 485.48,414.6 492.5,416.3 499.51,417 506.53,417.6 513.54,418.3 520.56,418.7 527.57,421.2 534.59,422.1 541.6,422.4" fill="none" stroke="#74a0f2" stroke-width="0.85" stroke-linejoin="round"/>
<path d="M407.12 364.9H409.51M408.31 363.7V366.1" stroke="#5a8ef0" stroke-width="0.7" fill="none"/><path d="M414.13 385.6H416.53M415.33 384.4V386.8" stroke="#5a8ef0" stroke-width="0.7" fill="none"/><path d="M421.15 396.4H423.55M422.35 395.2V397.6" stroke="#5a8ef0" stroke-width="0.7" fill="none"/><path d="M428.16 403.7H430.56M429.36 402.5V404.9" stroke="#5a8ef0" stroke-width="0.7" fill="none"/><path d="M435.18 407H437.57M436.38 405.8V408.2" stroke="#5a8ef0" stroke-width="0.7" fill="none"/><path d="M442.19 408.9H444.59M443.39 407.7V410.1" stroke="#5a8ef0" stroke-width="0.7" fill="none"/><path d="M449.21 410.3H451.61M450.41 409.1V411.5" stroke="#5a8ef0" stroke-width="0.7" fill="none"/><path d="M456.22 411.4H458.62M457.42 410.2V412.6" stroke="#5a8ef0" stroke-width="0.7" fill="none"/><path d="M463.24 412.6H465.63M464.44 411.4V413.8" stroke="#5a8ef0" stroke-width="0.7" fill="none"/><path d="M470.25 413.6H472.65M471.45 412.4V414.8" stroke="#5a8ef0" stroke-width="0.7" fill="none"/><path d="M477.27 413.9H479.67M478.47 412.7V415.1" stroke="#5a8ef0" stroke-width="0.7" fill="none"/><path d="M484.28 414.6H486.68M485.48 413.4V415.8" stroke="#5a8ef0" stroke-width="0.7" fill="none"/><path d="M491.3 416.3H493.69M492.5 415.1V417.5" stroke="#5a8ef0" stroke-width="0.7" fill="none"/><path d="M498.31 417H500.71M499.51 415.8V418.2" stroke="#5a8ef0" stroke-width="0.7" fill="none"/><path d="M505.33 417.6H507.73M506.53 416.4V418.8" stroke="#5a8ef0" stroke-width="0.7" fill="none"/><path d="M512.34 418.3H514.74M513.54 417.1V419.5" stroke="#5a8ef0" stroke-width="0.7" fill="none"/><path d="M519.36 418.7H521.76M520.56 417.5V419.9" stroke="#5a8ef0" stroke-width="0.7" fill="none"/><path d="M526.37 421.2H528.77M527.57 420V422.4" stroke="#5a8ef0" stroke-width="0.7" fill="none"/><path d="M533.38 422.1H535.79M534.59 420.9V423.3" stroke="#5a8ef0" stroke-width="0.7" fill="none"/><path d="M540.4 422.4H542.8M541.6 421.2V423.6" stroke="#5a8ef0" stroke-width="0.7" fill="none"/>
<polyline points="408.31,348.1 415.33,354.2 422.35,356 429.36,357.4 436.38,358.9 443.39,360 450.41,361.8 457.42,363.4 464.44,364.7 471.45,365.8 478.47,366.9 485.48,367.9 492.5,368.7 499.51,369.2 506.53,370.5 513.54,371.3 520.56,372.7 527.57,374 534.59,375.3 541.6,377.9" fill="none" stroke="#33adb0" stroke-width="0.85" stroke-linejoin="round"/>
<path d="M408.31 346.1L410.01 348.1L408.31 350.1L406.62 348.1Z" fill="#008c8c"/><path d="M415.33 352.2L417.03 354.2L415.33 356.2L413.63 354.2Z" fill="#008c8c"/><path d="M422.35 354L424.05 356L422.35 358L420.65 356Z" fill="#008c8c"/><path d="M429.36 355.4L431.06 357.4L429.36 359.4L427.66 357.4Z" fill="#008c8c"/><path d="M436.38 356.9L438.07 358.9L436.38 360.9L434.68 358.9Z" fill="#008c8c"/><path d="M443.39 358L445.09 360L443.39 362L441.69 360Z" fill="#008c8c"/><path d="M450.41 359.8L452.11 361.8L450.41 363.8L448.71 361.8Z" fill="#008c8c"/><path d="M457.42 361.4L459.12 363.4L457.42 365.4L455.72 363.4Z" fill="#008c8c"/><path d="M464.44 362.7L466.13 364.7L464.44 366.7L462.74 364.7Z" fill="#008c8c"/><path d="M471.45 363.8L473.15 365.8L471.45 367.8L469.75 365.8Z" fill="#008c8c"/><path d="M478.47 364.9L480.17 366.9L478.47 368.9L476.77 366.9Z" fill="#008c8c"/><path d="M485.48 365.9L487.18 367.9L485.48 369.9L483.78 367.9Z" fill="#008c8c"/><path d="M492.5 366.7L494.19 368.7L492.5 370.7L490.8 368.7Z" fill="#008c8c"/><path d="M499.51 367.2L501.21 369.2L499.51 371.2L497.81 369.2Z" fill="#008c8c"/><path d="M506.53 368.5L508.23 370.5L506.53 372.5L504.83 370.5Z" fill="#008c8c"/><path d="M513.54 369.3L515.24 371.3L513.54 373.3L511.84 371.3Z" fill="#008c8c"/><path d="M520.56 370.7L522.26 372.7L520.56 374.7L518.86 372.7Z" fill="#008c8c"/><path d="M527.57 372L529.27 374L527.57 376L525.87 374Z" fill="#008c8c"/><path d="M534.59 373.3L536.29 375.3L534.59 377.3L532.88 375.3Z" fill="#008c8c"/><path d="M541.6 375.9L543.3 377.9L541.6 379.9L539.9 377.9Z" fill="#008c8c"/>
<rect x="401.3" y="333.4" width="140.3" height="110.3" fill="none" stroke="#7a7a7a" stroke-width="0.55"/>
<path d="M401.3 443.7V442.4M401.3 333.4V334.7M408.31 443.7V442.4M408.31 333.4V334.7M415.33 443.7V442.4M415.33 333.4V334.7M422.35 443.7V442.4M422.35 333.4V334.7M429.36 443.7V442.4M429.36 333.4V334.7M436.38 443.7V442.4M436.38 333.4V334.7M443.39 443.7V442.4M443.39 333.4V334.7M450.41 443.7V442.4M450.41 333.4V334.7M457.42 443.7V442.4M457.42 333.4V334.7M464.44 443.7V442.4M464.44 333.4V334.7M471.45 443.7V442.4M471.45 333.4V334.7M478.47 443.7V442.4M478.47 333.4V334.7M485.48 443.7V442.4M485.48 333.4V334.7M492.5 443.7V442.4M492.5 333.4V334.7M499.51 443.7V442.4M499.51 333.4V334.7M506.53 443.7V442.4M506.53 333.4V334.7M513.54 443.7V442.4M513.54 333.4V334.7M520.56 443.7V442.4M520.56 333.4V334.7M527.57 443.7V442.4M527.57 333.4V334.7M534.59 443.7V442.4M534.59 333.4V334.7M541.6 443.7V442.4M541.6 333.4V334.7M401.3 443.7H402.6M541.6 443.7H540.3M401.3 427.94H402.6M541.6 427.94H540.3M401.3 412.19H402.6M541.6 412.19H540.3M401.3 396.43H402.6M541.6 396.43H540.3M401.3 380.67H402.6M541.6 380.67H540.3M401.3 364.91H402.6M541.6 364.91H540.3M401.3 349.16H402.6M541.6 349.16H540.3M401.3 333.4H402.6M541.6 333.4H540.3" stroke="#7a7a7a" stroke-width="0.55" fill="none"/>
<g class="tl"><text x="399.7" y="444.85" text-anchor="end">1,440</text><text x="399.7" y="429.09" text-anchor="end">1,460</text><text x="399.7" y="413.34" text-anchor="end">1,480</text><text x="399.7" y="397.58" text-anchor="end">1,500</text><text x="399.7" y="381.82" text-anchor="end">1,520</text><text x="399.7" y="366.06" text-anchor="end">1,540</text><text x="399.7" y="350.31" text-anchor="end">1,560</text><text x="399.7" y="334.55" text-anchor="end">1,580</text><text x="401.3" y="449.1" text-anchor="middle">0</text><text x="415.33" y="449.1" text-anchor="middle">100</text><text x="429.36" y="449.1" text-anchor="middle">200</text><text x="443.39" y="449.1" text-anchor="middle">300</text><text x="457.42" y="449.1" text-anchor="middle">400</text><text x="471.45" y="449.1" text-anchor="middle">500</text><text x="485.48" y="449.1" text-anchor="middle">600</text><text x="499.51" y="449.1" text-anchor="middle">700</text><text x="513.54" y="449.1" text-anchor="middle">800</text><text x="527.57" y="449.1" text-anchor="middle">900</text><text x="541.6" y="449.1" text-anchor="middle">1,000</text></g>
<text class="al" x="471.45" y="457.3" text-anchor="middle">Iterations</text>
<text class="al" text-anchor="middle" transform="translate(387.15 388.55) rotate(-90)">Function Value</text>
<rect x="512" y="336.9" width="26.2" height="32.2" fill="#fff" stroke="#8c8c8c" stroke-width="0.5"/><path d="M513 340.2H526" stroke="#ff4848" stroke-width="0.85"/><circle cx="519.8" cy="340.2" r="1.6" fill="#ff1a1a"/><text class="lg" x="527" y="341.65">cSO</text><path d="M513 345.35H526" stroke="#ffb428" stroke-width="0.85"/><circle cx="519.8" cy="345.35" r="1.6" fill="#ffaa00"/><text class="lg" x="527" y="346.8">SO</text><path d="M513 350.5H526" stroke="#6cc85a" stroke-width="0.85"/><path d="M517.9 349.2L521.7 349.2L519.8 352.3Z" fill="#4cbb2c"/><text class="lg" x="527" y="351.95">ABC</text><path d="M513 355.65H526" stroke="#ff66ff" stroke-width="0.85"/><circle cx="519.8" cy="355.65" r="1.2" fill="#ff44ff"/><text class="lg" x="527" y="357.1">FMO</text><path d="M513 360.8H526" stroke="#74a0f2" stroke-width="0.85"/><path d="M518.6 360.8H521M519.8 359.6V362" stroke="#5a8ef0" stroke-width="0.7" fill="none"/><text class="lg" x="527" y="362.25">DE</text><path d="M513 365.95H526" stroke="#33adb0" stroke-width="0.85"/><path d="M519.8 363.95L521.5 365.95L519.8 367.95L518.1 365.95Z" fill="#008c8c"/><text class="lg" x="527" y="367.4">GWO</text>
<text class="cap" text-anchor="middle" x="468.2" y="472.1"><tspan font-weight="bold">(i)</tspan><tspan style="font-size:8.6px"> f26</tspan></text>
</svg>
</body></html>
